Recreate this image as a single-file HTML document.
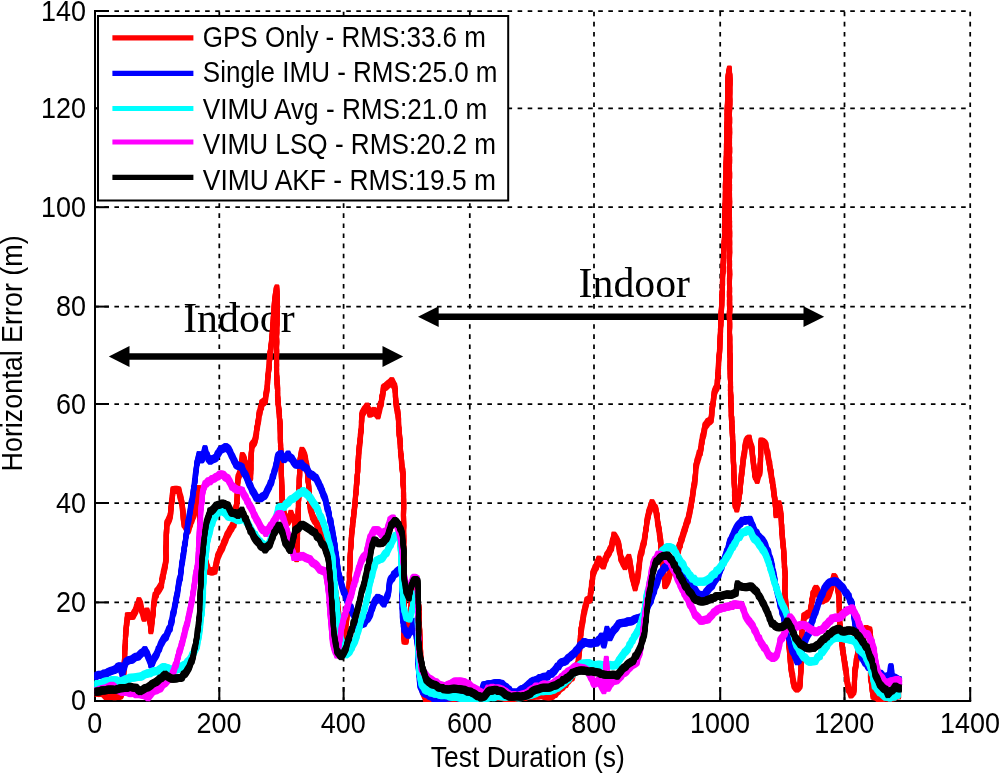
<!DOCTYPE html>
<html><head><meta charset="utf-8"><title>Horizontal Error</title>
<style>
html,body{margin:0;padding:0;background:#fff;}
svg{display:block;}
.t{font-family:"Liberation Sans",Arial,sans-serif;font-size:29px;fill:#000;}
.s{font-family:"Liberation Serif","Times New Roman",serif;font-size:43px;fill:#000;}
.g{stroke:#000;stroke-width:1.75;fill:none;}
.gh{stroke-dasharray:4.6 5.48;stroke-dashoffset:0.76;}
.gv{stroke-dasharray:4.6 5.48;stroke-dashoffset:9.32;}
.a{stroke:#000;stroke-width:2;fill:none;}
.c{fill:none;stroke-width:2.5;stroke-linejoin:round;stroke-linecap:butt;}
</style></head>
<body>
<svg width="1000" height="773" viewBox="0 0 1000 773">
<rect width="1000" height="773" fill="#fff"/>
<defs><clipPath id="cp"><rect x="94.3" y="10" width="877" height="692"/></clipPath></defs>
<g class="g">
<line class="gv" x1="219.3" y1="11" x2="219.3" y2="701.1"/>
<line class="gv" x1="343.6" y1="11" x2="343.6" y2="701.1"/>
<line class="gv" x1="469.8" y1="11" x2="469.8" y2="701.1"/>
<line class="gv" x1="594" y1="11" x2="594" y2="701.1"/>
<line class="gv" x1="720.2" y1="11" x2="720.2" y2="701.1"/>
<line class="gv" x1="844.5" y1="11" x2="844.5" y2="701.1"/>
<line class="gv" x1="970.2" y1="11" x2="970.2" y2="701.1"/>
<line class="gh" x1="95" y1="11" x2="970.2" y2="11"/>
<line class="gh" x1="95" y1="108.3" x2="970.2" y2="108.3"/>
<line class="gh" x1="95" y1="207.2" x2="970.2" y2="207.2"/>
<line class="gh" x1="95" y1="306.6" x2="970.2" y2="306.6"/>
<line class="gh" x1="95" y1="404" x2="970.2" y2="404"/>
<line class="gh" x1="95" y1="503" x2="970.2" y2="503"/>
<line class="gh" x1="95" y1="602.4" x2="970.2" y2="602.4"/>
</g>
<g class="a"><path d="M95,10 V702.1"/><path d="M94,701.1 H971.2"/>
<line x1="219.3" y1="701.1" x2="219.3" y2="687.1"/><line x1="343.6" y1="701.1" x2="343.6" y2="687.1"/><line x1="469.8" y1="701.1" x2="469.8" y2="687.1"/><line x1="594" y1="701.1" x2="594" y2="687.1"/><line x1="720.2" y1="701.1" x2="720.2" y2="687.1"/><line x1="844.5" y1="701.1" x2="844.5" y2="687.1"/><line x1="970.2" y1="701.1" x2="970.2" y2="687.1"/><line x1="95" y1="11" x2="109" y2="11"/><line x1="95" y1="108.3" x2="109" y2="108.3"/><line x1="95" y1="207.2" x2="109" y2="207.2"/><line x1="95" y1="306.6" x2="109" y2="306.6"/><line x1="95" y1="404" x2="109" y2="404"/><line x1="95" y1="503" x2="109" y2="503"/><line x1="95" y1="602.4" x2="109" y2="602.4"/></g>
<line x1="128.5" y1="356.5" x2="383.5" y2="356.5" stroke="#000" stroke-width="6.6"/><polygon points="108.8,356.5 129.5,346.1 129.5,366.9" fill="#000"/><polygon points="403.2,356.5 382.5,346.1 382.5,366.9" fill="#000"/>
<line x1="437.7" y1="316.7" x2="804.5" y2="316.7" stroke="#000" stroke-width="6.6"/><polygon points="418,316.7 438.7,306.3 438.7,327.09999999999997" fill="#000"/><polygon points="824.2,316.7 803.5,306.3 803.5,327.09999999999997" fill="#000"/>
<text class="s" transform="translate(183.2,332.3) scale(0.972,1)">Indoor</text>
<text class="s" transform="translate(578.6,296.6) scale(0.972,1)">Indoor</text>
<defs><polyline id="p_red" points="95.0,692.5 97.6,692.6 99.9,693.2 102.0,692.3 104.0,693.9 106.0,696.1 108.2,695.9 110.1,696.0 112.2,695.7 114.6,696.4 116.7,695.7 118.7,696.1 120.8,695.3 121.4,694.1 121.4,690.9 122.1,689.6 122.3,686.4 122.6,684.9 122.8,682.2 123.0,680.7 123.0,677.8 123.4,675.1 123.8,673.2 123.9,671.4 124.1,668.8 123.7,667.4 124.1,665.0 124.3,662.2 124.6,660.3 124.5,657.2 124.8,655.4 124.6,653.2 124.8,651.7 124.7,649.4 125.2,646.5 125.3,644.5 125.2,642.8 125.6,640.4 125.4,638.5 125.5,635.5 126.0,633.2 125.9,631.4 126.0,629.4 126.3,626.9 126.5,624.4 127.0,622.7 126.9,620.7 127.5,618.0 127.3,616.2 130.5,616.1 132.9,615.8 134.1,613.3 134.9,612.0 135.9,609.9 136.6,607.1 137.8,605.6 138.3,603.6 139.0,601.1 140.0,603.3 140.7,605.0 141.0,608.1 141.8,610.4 142.7,612.4 143.2,614.7 143.5,616.2 144.1,617.8 145.2,615.5 146.0,614.6 147.0,611.4 147.8,614.5 148.6,616.0 149.2,618.2 149.8,620.7 150.0,622.2 150.6,624.5 150.5,627.2 150.8,629.1 150.8,630.4 151.2,628.9 151.5,627.4 151.7,624.5 151.9,621.9 152.2,621.1 152.1,618.6 152.4,616.6 153.0,614.6 153.3,612.1 153.4,609.8 153.4,607.3 153.6,605.1 154.2,602.7 154.3,599.7 154.7,598.7 155.2,595.4 156.3,594.6 156.9,591.6 158.2,590.5 159.5,588.3 161.0,585.7 161.6,584.5 161.6,581.3 162.0,580.3 162.4,577.4 163.1,576.6 163.3,573.1 163.9,571.6 164.3,569.1 164.9,567.1 165.4,564.4 165.5,562.7 166.2,559.3 166.1,557.4 166.0,555.7 166.1,553.6 165.9,551.8 165.8,548.9 166.2,546.0 166.1,544.6 166.2,542.0 166.2,539.7 166.3,538.1 166.2,534.9 166.2,532.9 166.8,530.8 166.7,528.8 166.7,526.7 166.8,523.9 167.8,522.1 169.0,519.6 169.8,517.3 170.3,515.6 170.5,514.1 170.9,510.8 170.8,509.6 171.3,506.4 171.3,505.2 171.5,502.6 172.2,499.8 172.2,498.1 172.3,496.0 172.5,494.3 172.9,492.2 172.9,490.1 176.0,489.6 178.8,490.4 179.2,492.1 179.6,494.0 180.2,496.7 180.8,498.0 181.2,500.2 181.4,501.5 182.1,504.1 182.3,506.7 182.3,508.0 182.9,510.8 183.1,513.2 183.1,515.2 183.1,517.1 183.6,519.7 184.0,522.3 183.9,523.7 185.1,525.3 186.4,527.8 188.1,530.4 188.9,528.3 189.3,526.0 190.4,523.7 190.9,521.3 191.8,519.9 192.4,517.6 193.0,516.4 193.9,514.6 194.5,511.8 194.8,509.3 195.3,507.9 195.5,504.7 195.6,503.4 196.5,499.8 196.5,498.5 197.2,496.5 197.8,493.5 198.2,491.1 198.8,489.0 199.4,491.7 199.3,493.6 199.8,495.5 199.7,498.1 200.2,499.9 199.9,501.8 200.2,504.4 200.0,506.8 199.9,509.1 200.2,511.8 200.1,512.9 199.8,516.0 199.8,517.8 199.9,519.9 200.1,522.4 200.5,524.5 201.0,526.7 200.9,529.6 201.1,531.6 201.8,534.3 201.9,535.8 202.4,537.7 202.4,540.3 202.5,543.0 202.8,544.9 203.1,547.8 203.5,548.8 203.9,551.0 204.0,554.1 204.4,555.3 204.9,557.6 205.1,559.8 205.6,561.6 206.4,563.9 206.7,565.8 207.5,567.8 208.3,570.6 210.2,571.0 212.0,571.6 213.4,570.9 214.9,570.5 215.2,568.7 215.8,566.0 216.1,564.1 216.7,561.7 217.3,559.4 217.5,557.4 218.0,556.1 219.1,553.9 219.8,552.1 220.9,550.0 222.3,547.6 223.0,545.8 223.5,543.9 224.3,542.4 225.6,539.6 226.3,537.5 227.0,535.5 228.1,534.0 229.4,531.5 230.5,529.4 231.6,528.0 232.7,525.5 234.0,524.3 234.3,521.3 234.5,519.7 234.9,518.1 235.2,514.8 235.2,513.4 235.5,511.5 235.7,508.5 236.4,506.5 236.7,504.8 236.8,501.7 237.1,500.4 237.0,497.1 237.3,495.3 237.4,494.1 237.2,491.2 237.8,488.3 237.3,487.1 237.5,484.6 237.7,483.0 238.0,480.2 238.0,477.8 238.8,476.2 239.4,474.2 240.1,472.7 241.3,470.0 241.0,467.2 241.5,465.9 241.6,462.3 242.1,461.0 242.1,458.1 242.3,456.0 243.6,457.9 244.4,460.1 245.1,463.6 245.9,464.1 246.8,466.8 248.3,468.0 248.5,469.4 249.2,471.4 249.4,474.6 250.1,475.7 250.5,477.4 250.8,476.0 250.4,473.8 250.9,471.0 250.8,468.9 251.0,467.5 250.8,465.2 250.9,461.8 250.8,460.2 251.2,458.5 251.0,455.3 251.5,452.6 251.5,451.3 251.8,448.0 251.7,445.9 253.0,444.0 254.2,442.6 255.2,439.9 255.3,438.7 256.1,436.1 256.1,434.1 256.7,431.8 256.6,429.2 257.2,427.5 257.6,425.4 257.8,422.7 258.3,421.1 258.8,418.5 258.8,416.1 259.1,413.7 259.9,412.4 260.2,410.1 260.7,407.9 261.6,406.4 261.7,403.5 263.8,402.0 265.3,400.5 265.7,397.5 265.8,395.1 266.4,392.3 266.8,390.7 267.1,388.5 267.4,385.8 267.3,382.8 267.7,381.7 267.7,378.5 267.9,376.1 268.4,373.8 268.3,371.7 268.5,370.6 269.1,367.8 269.3,366.1 269.2,363.0 269.3,361.8 269.4,359.9 270.1,356.6 269.7,354.3 270.1,353.0 270.7,350.9 270.8,348.2 271.0,345.6 271.4,343.5 271.6,341.6 271.8,338.6 272.1,336.5 272.2,334.7 272.2,332.6 272.7,330.3 272.7,327.7 272.7,326.0 273.0,324.1 273.3,321.0 273.1,319.1 273.7,316.4 273.8,315.0 273.7,312.8 274.1,310.1 274.1,307.8 274.2,305.4 274.5,303.2 274.8,300.0 275.0,298.0 275.2,296.3 275.9,293.9 276.0,290.6 276.9,288.3 276.9,291.7 277.0,293.9 277.2,296.1 277.3,298.7 277.2,300.2 277.3,303.1 277.1,305.1 277.2,307.0 277.3,309.5 277.0,310.8 277.4,313.4 277.2,315.1 277.0,317.8 276.7,319.9 277.2,322.5 277.1,323.8 276.7,326.4 276.5,328.9 276.9,330.8 276.9,332.5 276.5,334.2 276.4,336.4 276.7,339.8 276.8,341.6 276.7,343.9 276.5,346.3 276.5,347.6 276.6,350.1 276.8,352.9 276.4,354.1 276.5,356.7 276.6,359.0 276.5,360.6 276.7,363.4 276.4,364.8 276.7,367.2 276.5,369.3 276.6,372.3 276.6,374.7 276.7,377.1 277.1,379.0 276.9,381.7 277.2,383.7 277.1,386.1 277.6,387.2 277.7,389.8 277.6,392.6 277.4,394.4 277.8,395.8 277.6,398.1 278.1,399.9 277.9,402.1 278.4,404.3 278.4,406.7 278.8,409.1 279.2,411.5 279.3,413.2 279.2,414.9 279.6,418.1 279.5,420.6 280.1,422.2 280.1,424.7 280.2,427.1 280.2,429.4 280.2,431.2 280.4,433.2 280.4,435.3 280.3,437.5 280.3,439.9 280.6,442.4 280.4,443.9 280.8,446.9 280.5,449.0 280.9,451.0 281.0,454.0 280.9,456.1 281.2,457.1 281.0,459.3 281.2,462.7 281.0,463.8 280.9,467.1 281.4,469.0 281.3,470.8 281.3,473.7 281.3,476.1 281.5,478.4 281.7,479.8 281.7,481.9 281.7,485.0 281.9,486.8 282.0,488.3 281.8,491.8 282.1,493.4 282.1,495.5 282.0,498.1 282.0,500.0 282.6,501.8 282.9,505.2 283.0,507.5 283.5,509.6 283.6,511.4 283.9,513.8 285.0,516.4 286.1,518.2 287.1,520.5 287.8,522.0 288.7,520.2 289.7,517.7 290.3,516.6 290.8,513.6 291.8,516.5 293.2,518.2 294.1,519.9 295.0,522.3 294.9,523.8 295.1,526.8 295.0,529.1 295.6,530.7 295.3,533.5 295.6,535.2 295.8,537.5 295.8,539.0 296.0,542.0 295.9,544.4 296.1,545.5 296.2,548.6 296.0,550.4 296.1,553.2 296.1,555.1 296.6,557.2 296.6,558.3 296.6,556.7 296.8,554.1 297.0,552.3 296.7,550.1 297.2,547.7 297.2,546.0 297.2,544.4 297.2,541.7 297.3,539.4 297.6,537.2 297.6,535.9 297.2,533.1 297.8,530.3 297.4,528.6 297.7,527.1 297.7,524.6 297.9,521.5 298.2,520.6 298.2,518.1 298.4,515.5 298.0,513.4 298.1,511.6 298.5,509.1 298.3,506.5 298.6,504.0 298.5,502.3 298.5,499.3 298.9,497.6 298.9,496.1 298.7,493.2 298.9,490.7 298.9,488.6 299.3,486.0 299.1,485.1 299.3,481.9 299.2,480.6 299.2,478.0 299.6,476.2 299.8,472.9 299.5,470.9 299.8,468.9 300.0,466.5 300.1,464.5 299.8,461.7 300.1,460.0 300.7,458.3 300.9,456.0 301.1,453.7 301.8,452.4 301.9,450.6 302.8,451.9 303.8,453.8 304.7,456.0 305.2,458.2 305.5,459.5 305.9,462.4 306.1,463.4 306.9,466.4 306.7,468.3 306.9,469.8 307.6,472.0 307.8,474.4 308.0,476.3 307.7,479.1 308.5,481.9 308.5,483.4 308.6,486.3 308.9,488.3 308.9,490.5 309.1,492.6 309.3,494.7 309.2,496.8 309.8,499.2 309.8,502.1 309.8,503.3 310.0,505.5 310.3,508.1 310.8,509.9 311.5,512.2 312.1,514.1 312.5,516.6 313.1,517.4 314.7,520.6 315.9,521.6 316.9,524.1 318.1,526.7 318.9,528.2 319.8,530.2 320.6,531.8 321.6,534.6 322.0,536.0 322.9,538.4 323.2,540.5 324.0,542.6 324.5,544.5 325.1,547.3 325.9,548.1 326.6,551.2 327.4,552.4 328.2,554.8 328.2,557.3 329.1,559.4 329.2,561.2 329.5,563.8 329.8,565.8 330.6,567.9 331.1,569.1 331.4,571.1 331.5,573.4 331.9,575.2 332.7,577.4 333.2,579.7 333.3,581.5 334.0,584.1 334.2,586.6 334.8,588.7 334.9,591.0 335.9,593.4 335.9,595.3 336.3,598.4 337.2,600.4 337.3,602.2 337.3,604.0 337.9,606.7 338.0,609.2 337.9,610.4 338.3,612.6 338.8,614.6 338.7,616.8 339.1,618.8 339.1,621.9 339.5,623.9 339.7,625.9 339.8,627.8 340.2,629.6 340.5,632.4 340.7,634.9 341.0,636.8 341.1,639.3 341.4,641.2 341.9,643.2 342.2,644.9 342.5,642.7 343.0,641.0 343.5,638.7 344.6,636.7 345.2,634.5 345.2,632.3 345.7,630.2 345.5,628.9 345.7,626.4 346.0,623.4 346.5,622.0 346.6,618.8 347.0,617.1 346.9,614.9 347.5,613.5 347.2,610.6 347.6,608.2 348.0,606.9 347.7,604.7 348.3,602.2 348.2,600.0 348.4,597.5 348.7,596.1 348.8,593.0 349.2,590.3 348.9,589.3 349.2,586.7 349.0,584.8 349.3,582.3 349.6,579.7 349.5,577.6 349.2,575.0 349.5,573.7 349.6,571.4 349.9,568.4 350.0,566.3 349.8,564.1 350.2,561.7 350.0,560.1 350.1,557.7 350.1,555.4 350.5,554.1 350.4,551.9 350.5,549.2 350.8,547.4 351.1,545.3 351.2,543.2 351.2,540.2 351.3,539.1 351.5,536.0 351.7,534.9 351.8,532.6 352.1,530.1 352.3,527.6 352.6,525.6 352.9,523.8 352.7,520.7 353.5,518.9 353.5,517.6 353.9,514.6 353.8,512.5 354.2,510.9 354.5,508.3 354.7,506.0 355.1,503.6 355.1,501.9 355.3,499.7 355.5,497.6 355.5,495.2 355.9,493.0 356.3,491.4 356.2,488.5 356.3,487.2 356.6,483.8 356.9,482.6 357.1,480.6 356.9,477.4 357.5,475.8 357.5,473.5 357.4,472.0 358.0,469.3 357.7,467.1 357.8,464.9 358.1,462.9 358.3,460.1 358.2,458.4 358.8,455.9 358.6,453.6 358.7,452.6 359.0,450.1 359.0,448.0 359.6,445.9 359.8,443.0 359.8,441.6 360.4,439.0 360.3,436.0 360.6,434.8 360.8,431.7 361.2,430.3 361.4,428.4 361.5,426.0 361.3,423.5 361.7,420.7 361.9,417.9 361.6,416.2 362.3,413.6 363.4,411.9 364.3,410.0 365.9,408.2 367.1,406.4 367.9,409.1 369.1,410.8 369.9,413.7 372.0,412.7 373.8,410.8 375.2,412.0 376.7,413.8 378.1,415.4 378.7,412.7 379.0,410.8 379.7,408.7 379.9,406.9 380.5,404.5 381.2,403.7 381.7,400.1 381.6,398.1 382.4,396.1 382.8,394.3 383.1,392.0 383.3,388.7 384.1,387.5 385.9,386.4 387.9,384.5 389.3,383.6 390.7,382.3 391.8,381.1 393.1,383.7 393.8,385.1 394.8,386.9 395.0,389.3 395.5,391.5 395.2,394.2 395.5,395.8 395.6,398.4 395.8,401.0 396.1,403.0 396.1,404.4 396.7,407.5 397.2,409.2 397.1,410.8 397.9,412.4 398.1,415.2 398.1,416.7 398.5,418.9 398.7,421.6 398.4,423.7 398.6,425.4 398.8,427.8 399.2,430.3 398.9,432.9 399.2,434.5 399.6,436.6 399.8,438.0 400.1,441.5 400.3,442.7 400.2,445.6 400.6,448.1 400.4,449.1 400.6,452.4 400.8,454.0 401.2,456.1 401.4,458.6 401.4,460.7 401.8,462.6 401.8,464.8 401.9,467.4 402.3,470.1 402.9,470.9 403.0,473.6 403.2,475.8 402.9,478.3 403.0,479.7 402.9,483.0 403.1,484.6 403.4,486.9 403.6,488.7 403.5,491.2 403.4,493.7 403.7,495.4 403.6,497.7 403.4,499.5 403.8,501.8 403.6,504.9 403.8,505.8 403.6,508.6 403.7,511.4 403.4,513.0 403.4,515.1 403.4,516.6 403.7,519.0 403.6,521.5 403.6,523.1 403.8,525.3 403.8,527.7 403.5,529.9 403.4,531.6 403.8,533.8 403.7,537.3 403.7,538.9 403.9,541.6 403.8,543.1 403.5,545.7 403.7,547.5 404.0,550.3 403.6,551.6 403.8,554.5 403.9,556.5 403.8,558.2 403.9,560.8 404.0,562.2 403.5,564.6 403.6,566.9 403.7,569.7 403.9,572.1 404.0,574.1 404.0,576.0 404.1,578.0 403.8,580.7 403.9,583.0 404.2,584.2 404.0,586.7 403.8,589.6 404.2,591.1 403.9,593.5 404.2,596.2 404.3,597.8 404.1,600.1 404.0,602.1 404.1,604.9 404.3,606.0 403.9,609.4 404.2,610.8 404.0,613.2 404.3,615.7 403.9,617.6 404.2,619.4 404.0,621.6 404.0,624.2 404.2,626.3 403.8,629.0 404.1,631.2 404.1,633.8 403.8,636.0 404.0,637.7 404.0,640.5 406.0,640.8 406.5,638.8 406.4,637.0 407.1,635.2 407.3,632.6 407.3,630.9 407.9,628.5 408.2,626.6 408.5,624.2 408.4,621.4 408.9,619.4 409.1,617.5 409.7,614.9 410.2,613.4 410.3,611.0 410.5,609.3 411.1,606.1 411.1,604.3 411.6,602.4 412.3,600.2 412.1,597.9 412.6,596.4 413.3,593.5 413.5,591.3 413.8,590.5 415.5,590.3 417.0,591.5 417.4,594.3 417.3,596.0 417.9,598.3 417.8,600.3 418.4,603.8 418.3,605.8 419.0,607.3 419.1,610.0 419.2,612.1 419.2,614.7 419.3,617.0 419.4,618.1 419.2,620.2 419.5,622.4 419.3,625.4 419.4,627.4 419.5,628.9 419.9,632.1 419.8,633.0 419.6,635.9 420.0,637.3 420.0,640.0 419.9,642.0 420.3,644.5 420.3,646.5 420.5,648.3 420.4,651.2 420.8,653.1 420.6,655.5 420.5,657.1 421.0,659.1 421.0,662.1 421.0,664.5 421.2,665.8 421.2,668.1 421.4,669.9 421.1,672.9 421.5,674.8 421.5,677.4 421.7,679.5 421.5,681.8 421.6,683.6 421.9,685.1 422.0,688.2 422.2,689.7 423.2,692.3 423.8,694.0 424.9,696.1 425.9,699.5 428.2,699.3 430.7,699.2 433.0,698.5 435.1,698.7 437.8,697.6 440.1,697.5 442.4,697.5 444.6,697.8 446.9,698.6 448.9,698.0 451.1,698.1 453.2,698.6 455.5,697.6 457.5,697.5 460.2,697.3 462.1,697.3 464.6,698.0 466.7,697.8 469.1,698.4 471.3,697.9 473.4,697.8 475.7,698.6 478.0,698.6 479.8,697.5 481.8,697.9 484.1,696.9 485.8,696.4 488.2,696.3 489.9,696.1 491.8,696.1 494.2,696.0 496.3,696.5 498.5,696.4 501.3,696.6 503.5,697.3 505.4,698.0 507.6,698.1 510.2,698.3 512.3,697.3 514.1,698.0 516.3,697.0 518.5,697.4 521.1,696.2 523.0,696.8 525.0,696.8 527.1,695.8 529.3,696.1 531.6,695.5 533.7,695.8 535.9,695.2 538.4,695.6 540.3,694.9 542.9,695.3 545.2,696.1 547.5,696.3 549.8,696.4 552.1,695.8 553.6,694.3 555.1,694.0 556.7,691.8 558.1,690.8 559.3,688.9 561.2,687.6 562.5,686.7 564.1,684.5 565.7,684.1 567.0,681.7 568.7,680.1 570.3,677.9 572.2,677.3 572.7,675.4 573.4,672.8 574.7,670.4 575.5,668.6 576.1,666.6 577.2,665.7 578.2,663.6 578.5,660.7 578.3,658.3 578.9,656.6 579.0,654.5 579.2,651.8 579.5,649.6 580.0,646.8 580.0,645.6 580.0,642.5 580.4,640.7 580.2,638.6 580.8,636.2 580.5,633.7 581.1,632.6 580.7,630.6 581.6,628.3 581.8,625.8 582.1,623.3 582.8,621.2 583.1,618.3 583.2,616.7 583.8,614.3 584.0,612.2 584.7,610.6 585.0,607.8 585.6,606.3 586.1,604.3 586.7,602.1 586.9,600.5 589.7,599.3 590.5,597.7 590.2,596.3 590.5,594.0 591.0,590.7 591.5,588.9 591.4,587.2 591.5,584.2 592.1,582.6 592.4,580.8 592.5,577.7 592.8,576.9 592.7,574.3 593.8,571.8 594.7,569.4 595.1,568.2 596.4,566.5 597.1,563.4 598.2,561.2 598.9,559.5 600.1,561.7 601.9,564.0 603.3,565.6 603.9,563.9 604.4,562.1 605.2,559.5 606.2,558.1 606.8,555.6 607.9,554.2 609.2,552.2 609.7,550.5 610.8,548.6 611.6,547.5 611.8,545.5 612.1,543.3 612.5,541.5 613.3,539.5 613.8,537.5 613.8,535.5 614.8,536.7 615.7,538.3 616.8,540.2 617.8,542.3 618.6,544.7 619.1,546.9 619.2,549.5 619.6,551.2 620.3,553.0 620.5,556.3 620.9,558.3 622.2,560.6 623.0,562.6 623.9,564.2 625.0,566.2 626.2,563.7 626.7,562.0 627.7,559.9 628.9,557.8 629.2,560.5 630.0,561.9 630.1,565.2 630.6,566.8 631.0,569.0 631.2,570.9 631.6,573.2 632.0,575.3 632.6,578.0 633.4,580.5 633.7,582.3 634.7,585.5 635.2,587.4 635.8,584.4 636.0,582.7 636.9,581.0 637.6,577.8 638.0,575.6 638.0,574.2 638.7,571.3 638.6,569.4 638.9,567.3 639.3,564.7 639.6,562.6 639.6,560.4 640.0,557.8 640.3,556.0 641.0,553.3 641.9,551.5 642.3,548.2 642.6,546.9 643.2,544.7 644.2,542.2 644.5,539.3 644.7,538.1 645.1,535.1 645.5,533.8 645.5,530.8 646.2,528.4 646.5,527.1 646.5,525.3 646.7,523.1 647.1,520.6 647.5,518.3 648.2,515.9 648.6,513.2 649.2,511.2 650.0,509.5 650.6,507.0 651.5,504.9 652.0,503.1 652.8,504.5 653.8,507.0 655.2,508.1 656.0,510.5 656.2,511.5 656.4,514.2 657.3,516.0 657.3,518.5 657.5,521.3 657.8,523.2 658.3,525.6 658.5,527.5 659.3,530.2 659.3,532.6 659.8,534.9 660.0,536.7 660.0,538.8 660.7,541.3 660.9,543.4 660.8,546.6 661.2,548.6 661.5,550.8 661.8,552.3 661.9,554.5 662.2,556.8 662.2,558.9 662.2,561.0 662.5,563.5 662.6,566.2 662.9,568.5 663.4,569.6 663.8,572.3 663.5,573.8 664.1,576.2 664.4,578.8 664.6,580.9 664.5,582.2 664.9,585.2 666.1,583.7 666.9,582.3 668.2,579.6 668.6,578.1 669.3,575.7 669.8,573.5 670.5,571.8 671.3,570.6 672.1,567.4 672.5,565.4 673.6,564.3 674.3,562.4 675.0,559.8 675.6,558.3 676.0,556.4 676.9,554.3 677.5,551.9 678.5,550.3 678.8,547.8 679.5,545.5 680.4,544.4 680.5,542.3 681.3,539.8 682.0,538.7 682.4,536.7 683.2,534.1 683.8,532.5 684.4,530.2 685.3,528.2 685.7,526.1 686.6,523.6 687.2,521.3 688.0,520.3 688.5,517.8 688.8,516.1 689.5,513.0 689.9,511.5 690.3,508.3 690.8,506.6 691.2,505.1 691.4,502.0 692.0,499.7 692.3,498.1 692.6,495.4 692.9,493.7 693.2,490.6 693.5,489.1 693.8,486.6 694.1,484.8 694.8,482.7 694.9,479.8 695.1,477.2 695.5,475.2 695.6,473.0 695.7,471.0 695.7,468.1 695.8,466.6 696.6,464.3 697.0,461.5 697.9,459.5 698.1,457.8 698.8,456.4 699.2,453.5 700.2,452.5 700.6,449.8 701.1,447.9 701.3,445.2 701.4,443.4 702.2,441.4 702.3,438.6 702.8,436.8 703.4,434.7 703.9,433.3 704.0,431.2 704.7,428.4 704.9,426.3 706.7,424.1 707.8,422.1 709.5,421.2 711.2,419.5 711.3,417.0 711.8,414.9 711.9,412.8 711.9,410.4 712.2,407.6 712.7,405.1 713.1,403.4 713.4,400.6 713.5,398.7 713.9,396.9 714.0,394.0 714.8,391.4 715.7,389.1 716.8,387.6 717.4,385.1 717.1,382.7 717.5,380.9 717.8,378.1 717.6,376.2 717.9,374.2 718.2,371.4 718.3,369.7 718.4,367.4 718.4,364.7 718.7,363.0 718.6,360.6 718.8,358.8 719.0,356.2 719.4,354.0 719.4,352.5 719.8,349.8 719.8,347.1 719.8,344.8 719.9,343.6 720.1,340.1 720.0,338.8 720.3,335.7 720.6,334.0 720.3,332.0 720.6,330.0 720.6,327.9 720.6,325.3 721.1,322.8 720.7,320.8 721.2,318.5 720.9,316.6 721.0,314.1 721.2,311.8 721.4,309.4 721.6,307.2 721.8,304.6 721.9,302.6 721.6,301.2 722.0,297.8 722.1,296.0 721.8,294.2 722.3,292.1 722.5,289.1 722.5,286.7 722.3,284.8 722.7,282.6 722.4,280.1 722.5,278.0 722.7,275.9 722.7,274.0 722.8,271.6 723.3,270.6 723.3,267.0 723.0,266.2 723.3,263.7 723.1,261.7 723.6,259.5 723.6,257.1 723.9,255.4 723.7,252.4 723.5,250.9 724.1,248.2 724.1,246.0 724.0,243.9 724.2,242.2 724.3,240.0 724.5,237.8 724.5,235.6 724.6,233.1 724.7,230.6 724.3,229.1 724.8,227.2 724.7,224.8 724.7,221.6 724.9,220.2 725.1,217.0 724.7,215.5 724.8,212.6 725.1,210.8 725.3,208.7 724.9,206.8 725.3,204.7 725.1,201.5 725.5,200.4 725.5,198.1 725.2,195.2 725.4,193.4 725.5,191.8 725.4,188.3 725.3,186.2 725.4,184.2 725.7,182.6 725.6,179.6 726.0,177.6 725.9,176.0 726.0,173.4 726.0,171.3 726.2,169.7 726.0,167.0 725.9,165.4 726.3,163.1 726.1,159.9 726.4,157.8 726.6,156.0 726.2,154.0 726.5,151.8 726.6,149.3 726.3,146.7 726.7,144.8 726.9,142.9 726.5,140.7 726.9,137.7 726.7,135.8 727.0,133.6 727.0,131.0 726.8,129.7 727.2,127.8 726.8,125.2 727.2,122.5 727.2,120.2 727.3,118.6 727.0,116.7 727.4,114.7 727.0,111.8 727.4,109.8 727.2,108.2 727.4,105.8 727.4,103.9 727.7,101.5 727.8,98.4 727.6,97.4 727.9,93.9 727.6,92.7 727.7,90.5 727.8,87.5 728.0,85.4 727.6,83.8 728.2,81.7 727.9,80.0 727.9,77.3 728.4,75.4 728.6,72.9 729.4,69.5 729.4,73.2 729.7,75.2 730.1,77.1 729.8,79.4 730.2,82.1 730.1,83.1 729.8,85.3 729.7,88.2 729.9,90.9 729.9,91.8 729.7,94.3 729.7,96.3 729.7,99.4 730.0,101.6 729.9,102.8 729.5,105.9 729.8,107.0 729.6,109.3 729.5,111.6 729.4,113.6 729.5,116.6 729.3,118.2 729.8,120.1 729.5,122.8 729.4,125.2 729.5,126.9 729.6,128.9 729.7,131.2 729.5,133.3 729.7,135.4 729.3,137.7 729.2,139.8 729.6,142.1 729.5,144.7 729.3,146.9 729.8,149.8 729.6,152.1 729.5,153.5 729.5,156.2 729.3,157.5 729.8,160.0 729.4,162.0 729.4,165.4 729.6,166.3 729.4,169.8 729.3,171.4 729.7,174.2 729.7,175.9 729.3,178.6 729.6,180.0 729.2,182.2 729.3,184.9 729.7,187.4 729.3,189.1 729.5,191.1 729.3,192.8 729.6,195.9 729.5,198.1 729.6,199.8 729.6,201.9 729.7,203.9 729.3,207.1 729.3,208.9 729.3,211.6 729.3,213.4 729.3,215.1 729.3,217.3 729.6,219.9 729.4,221.6 729.7,224.2 729.3,225.7 729.7,229.0 729.3,230.1 729.6,232.4 729.8,234.8 729.5,237.0 729.5,240.0 729.7,241.9 729.7,244.1 729.5,246.2 729.3,248.2 729.8,250.1 729.6,252.3 729.6,255.4 729.5,256.3 729.3,259.5 729.3,260.8 729.7,263.9 729.4,265.5 729.5,267.3 729.3,270.3 729.8,271.9 729.6,274.5 729.7,275.9 729.5,278.5 729.4,281.0 729.5,283.0 729.5,285.2 729.5,287.5 729.7,290.3 729.5,292.3 729.3,294.1 729.5,296.3 729.8,298.3 729.5,301.1 729.3,303.2 729.9,305.6 729.6,306.6 729.8,309.1 729.8,311.8 729.3,313.3 729.3,315.5 729.3,317.5 729.7,319.7 729.5,322.5 729.7,324.4 729.8,326.1 729.5,328.6 729.6,331.2 729.5,332.8 729.5,335.9 729.9,337.6 729.8,339.4 729.6,342.5 729.8,344.8 729.9,346.3 729.9,348.1 729.7,351.2 729.9,353.5 729.8,354.4 730.3,356.5 730.0,359.5 730.4,361.3 730.0,363.4 730.1,366.5 730.1,368.4 730.1,370.8 730.5,372.7 730.3,374.0 730.1,376.3 730.5,378.9 730.5,381.2 730.5,382.7 730.6,385.8 730.3,387.5 730.7,389.3 730.5,391.2 730.4,393.4 730.9,395.6 731.0,398.2 730.8,400.6 730.7,402.5 731.1,404.1 731.2,406.6 731.1,409.1 731.5,410.9 731.2,413.5 731.3,415.7 731.4,418.3 732.0,419.3 731.7,422.3 732.0,424.3 731.8,426.1 732.2,428.0 732.2,430.6 732.2,432.1 732.4,435.3 732.7,436.3 732.7,438.5 732.5,441.2 733.0,443.9 733.1,445.5 732.9,447.9 732.8,449.5 733.2,452.6 733.1,454.8 733.4,456.6 733.2,459.2 733.3,461.6 733.6,463.6 733.7,465.7 733.9,467.2 733.7,470.1 733.7,472.4 734.0,473.7 733.9,476.4 734.2,478.3 734.1,480.7 734.2,482.3 734.2,484.8 734.4,486.3 734.7,489.5 734.6,491.2 734.4,492.7 734.5,495.4 734.7,497.7 734.8,500.2 734.8,501.3 735.1,504.7 736.0,505.9 736.8,508.6 737.3,505.6 738.0,503.6 738.2,501.6 738.4,499.2 739.1,497.4 739.2,495.0 739.7,492.1 740.3,490.4 740.1,488.3 740.5,485.1 740.5,483.9 740.8,482.1 741.1,479.7 741.1,476.9 741.4,474.8 742.0,473.1 742.1,471.2 742.0,468.2 742.6,466.9 742.8,464.6 743.0,462.3 743.1,459.5 743.5,457.8 744.0,455.6 744.1,453.7 744.8,450.9 744.8,448.3 745.1,446.0 745.7,444.5 746.1,441.8 747.3,439.8 749.2,438.4 749.6,440.6 750.2,443.5 750.9,445.8 751.5,447.2 752.2,449.4 752.1,451.5 752.3,453.9 752.6,456.3 753.0,458.7 753.1,460.8 753.4,462.8 753.5,465.2 754.0,466.8 754.4,470.1 754.8,471.6 754.5,473.5 755.3,476.3 756.3,477.3 757.2,480.0 757.8,477.5 758.3,475.1 759.1,473.7 759.8,472.5 760.0,469.4 760.0,467.9 760.0,465.9 760.5,463.7 760.2,461.2 760.7,459.1 760.5,457.4 760.7,455.0 760.7,453.0 760.7,450.1 760.6,448.7 761.0,446.7 760.8,444.2 761.0,441.4 762.8,442.0 764.7,443.4 766.0,445.6 766.2,448.1 766.7,450.1 767.1,452.2 767.9,453.7 767.9,456.2 768.4,458.5 768.8,460.5 769.1,462.8 769.8,464.3 769.7,466.3 770.1,468.7 770.4,470.6 771.3,472.7 771.1,474.9 771.6,477.6 771.9,480.3 772.6,481.7 772.7,483.9 773.0,486.7 773.5,489.2 773.9,490.9 773.8,493.7 774.3,495.8 774.6,498.2 775.2,500.7 775.0,502.8 775.4,505.1 775.6,506.4 775.8,508.7 775.9,512.1 775.9,514.2 776.3,512.4 777.4,509.8 777.7,508.1 778.4,505.8 779.0,504.2 779.2,505.4 780.0,508.2 780.0,510.3 780.4,511.4 780.9,514.2 781.0,515.9 781.2,518.3 781.4,520.3 781.3,522.5 781.4,525.0 782.0,527.7 781.6,529.3 781.7,531.5 782.2,533.5 782.2,536.4 782.5,539.1 782.8,540.9 783.0,542.6 782.9,545.0 783.5,547.5 783.6,549.9 783.8,551.2 783.9,553.9 784.0,555.7 783.9,557.6 784.3,560.4 784.6,562.8 784.2,564.4 784.4,566.2 784.8,568.8 784.9,571.2 784.8,572.3 785.3,574.5 785.2,577.5 785.1,579.1 784.9,582.1 785.1,584.5 785.1,586.0 784.8,588.7 784.8,590.2 785.0,592.7 785.0,594.3 785.1,597.8 785.2,599.0 785.8,602.1 785.8,603.7 786.1,605.7 786.2,609.0 786.7,611.2 786.6,613.1 786.8,614.4 786.9,617.1 787.5,618.6 787.5,621.8 787.4,623.8 787.7,625.4 787.7,628.5 787.9,630.6 788.1,632.5 788.2,633.6 788.5,636.2 788.7,638.4 788.7,640.7 788.6,643.1 788.9,645.3 789.2,647.8 789.3,649.5 789.7,651.0 789.6,653.1 790.1,655.9 790.1,658.1 790.2,661.0 790.8,662.5 791.0,665.4 790.8,666.9 791.2,669.7 791.9,671.9 791.8,673.9 792.8,676.5 792.7,677.9 793.0,681.1 793.6,682.3 794.0,685.1 795.6,687.3 797.0,688.7 798.7,687.1 800.0,685.4 800.2,683.4 800.2,681.1 800.3,678.3 800.6,676.4 800.6,673.7 800.8,672.4 801.1,669.2 801.0,668.1 801.0,666.2 801.2,662.7 801.5,661.7 801.8,658.6 801.6,656.9 801.9,654.9 801.9,653.1 801.9,649.7 801.7,647.6 801.8,645.5 801.6,644.6 801.8,641.9 801.7,640.2 801.8,636.9 801.8,635.5 802.0,633.4 801.9,631.5 802.1,629.1 802.7,626.2 803.3,624.5 803.3,622.0 803.9,619.4 803.8,616.5 805.7,615.6 807.9,614.0 810.2,613.2 810.5,610.7 810.6,608.9 811.2,606.5 811.6,603.8 811.6,601.3 812.3,599.5 812.9,597.4 812.8,594.4 814.0,592.9 814.7,590.6 816.0,588.7 816.7,589.7 818.2,592.2 818.8,594.4 820.2,596.0 821.0,598.4 822.0,600.5 824.2,599.1 826.3,598.4 827.8,596.4 828.6,595.1 829.2,593.6 829.9,591.6 830.6,589.0 831.4,587.1 831.9,585.3 832.4,582.6 832.7,580.8 833.3,579.3 833.9,577.0 835.1,578.3 835.9,580.4 837.2,582.9 837.5,585.6 837.5,587.3 837.8,589.6 838.4,592.0 838.5,594.2 839.0,596.1 839.1,598.5 839.2,601.6 838.9,603.6 839.5,605.6 839.4,608.1 839.1,609.6 839.6,612.7 839.8,613.9 839.4,615.7 839.7,618.2 839.6,621.3 839.7,623.5 840.0,624.8 840.4,627.4 840.6,629.9 840.6,631.3 841.0,633.6 841.2,635.7 841.3,637.7 841.7,640.5 841.7,642.5 842.2,644.7 842.2,647.5 842.6,648.8 842.8,652.1 843.3,653.4 843.6,655.9 843.9,657.7 844.2,659.9 844.5,662.5 845.2,664.6 845.1,667.4 845.8,669.1 846.1,671.3 846.2,673.2 846.6,675.8 846.7,678.0 846.8,679.7 847.4,683.2 847.9,685.4 848.3,686.7 848.5,689.4 849.6,690.4 850.3,692.7 851.0,694.5 852.3,692.9 853.8,691.3 854.2,688.3 854.3,686.0 854.4,684.1 854.6,682.4 854.4,680.0 854.7,677.2 854.8,675.5 854.9,673.7 854.7,670.5 855.3,668.8 855.7,666.7 856.2,664.4 856.1,661.6 856.6,660.0 857.1,657.5 857.5,656.0 857.9,653.6 858.0,651.3 858.6,648.6 859.8,645.9 860.6,644.3 861.0,642.6 861.9,640.7 862.7,638.3 863.5,635.2 864.7,632.7 865.3,630.7 865.9,628.9 868.0,629.8 869.8,630.4 870.0,632.6 870.5,634.8 870.2,635.9 870.8,638.7 870.8,640.9 871.0,642.9 871.2,645.2 870.8,646.9 871.0,649.5 870.7,651.2 871.0,653.3 870.7,655.7 870.8,658.5 871.0,659.7 870.5,662.1 870.6,664.0 870.6,666.0 870.5,669.1 870.8,670.2 870.5,672.4 870.4,675.4 870.5,677.5 870.8,679.4 871.6,682.3 871.7,684.4 871.9,686.3 872.0,688.9 872.4,690.0 872.7,692.6 873.0,695.6 874.6,696.3 876.4,696.7 878.1,698.1 880.0,698.2 881.9,698.5 884.1,697.3 886.0,697.3 888.0,697.6 889.8,696.8 892.0,697.6 894.2,697.0 896.3,695.4 897.8,695.0 899.8,695.6"/></defs>
<g class="c" stroke="#ff0000" clip-path="url(#cp)"><use href="#p_red" x="-1.25" y="-2.7"/><use href="#p_red" x="-1.25" y="-1.35"/><use href="#p_red" x="-1.25" y="0"/><use href="#p_red" x="-1.25" y="1.35"/><use href="#p_red" x="-1.25" y="2.7"/><use href="#p_red" x="0" y="-2.7"/><use href="#p_red" x="0" y="-1.35"/><use href="#p_red" x="0" y="0"/><use href="#p_red" x="0" y="1.35"/><use href="#p_red" x="0" y="2.7"/><use href="#p_red" x="1.25" y="-2.7"/><use href="#p_red" x="1.25" y="-1.35"/><use href="#p_red" x="1.25" y="0"/><use href="#p_red" x="1.25" y="1.35"/><use href="#p_red" x="1.25" y="2.7"/></g>
<defs><polyline id="p_blue" points="95.0,676.5 97.5,675.4 99.5,674.7 102.0,675.1 104.1,673.5 106.2,673.6 108.1,672.1 110.0,671.4 111.8,670.7 113.9,670.1 116.3,668.9 117.8,666.9 119.9,666.2 120.5,667.3 120.9,670.1 121.7,671.3 122.1,674.2 122.9,672.2 123.1,669.6 124.0,667.9 124.6,666.5 125.1,664.1 125.9,662.1 128.2,660.4 130.0,660.0 132.1,659.5 134.2,657.8 136.1,656.7 138.3,656.5 140.2,654.3 141.5,653.0 143.3,652.2 144.9,649.9 145.8,651.8 147.1,653.8 148.1,656.5 148.9,658.3 149.7,660.3 150.5,662.3 150.8,664.6 152.5,662.5 153.6,659.3 154.6,657.7 155.9,655.6 156.8,654.0 157.8,651.3 158.3,649.6 159.4,648.5 160.1,645.9 161.2,643.4 162.3,641.6 163.4,639.4 164.5,638.0 166.3,636.5 167.1,633.8 167.8,632.4 168.9,629.5 170.2,628.0 170.5,626.1 170.9,623.3 171.7,621.7 172.2,619.6 172.4,616.5 172.9,614.0 173.8,612.1 174.2,609.8 174.5,607.8 174.9,605.4 175.6,602.7 175.7,600.6 176.2,598.9 176.7,596.1 176.9,595.0 177.6,592.6 177.8,589.8 178.2,587.8 178.5,584.8 178.9,583.3 179.2,580.8 179.7,579.2 180.5,577.1 180.6,574.2 180.8,572.7 181.4,569.2 181.4,567.8 181.6,565.2 182.0,562.8 182.4,561.7 182.7,559.2 182.9,556.2 183.4,554.9 183.8,552.2 183.8,549.9 184.6,547.8 184.4,545.3 185.2,543.1 185.5,541.5 185.6,539.0 185.8,536.4 186.4,534.8 186.6,532.2 187.3,529.8 187.2,528.9 187.5,525.9 187.8,523.4 188.2,521.5 188.7,520.3 189.1,517.1 189.4,514.6 189.8,513.0 190.3,510.5 190.4,508.9 191.0,506.1 191.1,503.8 191.5,502.3 192.1,500.7 192.4,497.9 192.9,495.0 193.0,493.1 193.6,490.5 193.4,489.4 194.2,487.0 194.4,483.9 194.5,481.9 195.2,480.3 195.2,477.5 195.4,475.0 195.8,473.1 196.0,470.2 196.4,468.9 196.6,465.8 196.8,463.5 197.4,462.4 197.8,460.1 198.7,456.9 199.0,455.0 200.0,456.1 201.2,458.8 201.7,459.4 202.4,458.3 203.1,455.5 203.9,453.4 204.6,450.2 205.0,449.1 205.5,450.9 205.8,452.9 206.3,454.6 207.2,455.4 207.9,457.8 209.2,459.6 210.2,460.8 212.3,459.3 214.3,458.6 216.2,457.5 217.0,455.0 217.7,453.9 218.9,452.4 220.3,450.0 222.1,448.9 223.8,448.4 225.7,447.0 227.4,448.2 228.9,449.7 230.2,452.2 231.0,454.2 231.8,455.8 232.9,457.8 233.7,459.9 234.9,461.9 235.9,464.4 238.2,465.9 240.0,466.2 242.1,467.6 242.8,470.3 243.9,472.6 245.0,474.0 246.1,475.9 246.7,477.4 247.9,480.6 248.6,482.3 249.2,483.9 250.2,485.6 251.0,487.3 251.9,490.0 252.8,491.4 253.8,492.9 255.2,495.4 256.2,497.5 258.1,498.1 260.2,498.4 261.5,497.5 263.0,496.3 264.6,495.6 265.8,493.9 266.8,491.4 267.5,490.0 268.3,488.5 269.5,486.3 270.3,483.6 271.3,482.4 271.9,480.6 272.3,477.5 273.4,475.7 273.8,473.6 274.1,472.1 274.8,470.3 275.6,467.6 275.8,465.6 276.4,464.0 276.9,461.7 277.0,460.2 277.4,457.6 278.1,455.9 279.7,454.6 281.1,454.1 281.9,456.0 283.1,457.8 283.9,459.3 285.4,457.8 286.9,456.7 288.1,454.4 289.3,456.9 290.9,458.0 292.1,459.0 293.1,461.0 294.9,463.5 295.8,464.5 298.3,464.8 301.2,463.6 302.5,465.6 304.5,467.3 305.9,468.0 307.3,469.4 308.7,472.6 309.8,474.0 311.9,474.8 314.2,476.9 316.0,478.0 316.9,479.7 318.2,482.6 319.0,483.9 319.8,486.1 320.8,487.7 321.7,490.4 322.5,491.7 322.9,493.7 324.1,496.2 324.8,497.7 325.4,499.5 325.9,501.5 326.3,504.1 326.6,505.5 327.2,508.3 328.3,509.9 328.2,511.8 329.0,513.7 329.5,515.9 329.5,518.1 330.0,520.5 330.8,521.4 331.2,524.0 331.4,526.1 331.7,527.9 332.5,530.6 332.8,533.5 333.3,535.9 333.5,537.6 334.2,540.5 334.5,542.7 334.5,544.1 335.2,546.2 335.3,549.5 335.6,551.2 335.8,553.8 336.4,555.0 336.5,557.2 336.8,559.8 337.5,562.7 337.4,564.5 337.5,566.0 338.0,568.8 338.0,570.9 338.4,573.5 339.4,576.1 339.6,577.7 340.6,580.2 341.1,582.7 341.6,584.7 342.3,587.4 342.7,588.4 343.5,591.4 344.9,593.1 345.2,595.2 346.2,598.2 347.1,600.6 347.7,602.6 349.2,603.8 350.0,607.1 351.2,608.2 351.8,610.8 352.7,613.1 354.0,614.8 354.5,617.3 355.2,619.8 356.5,622.0 357.4,624.5 358.0,626.6 359.9,624.7 362.2,623.9 364.3,623.1 365.0,621.5 366.5,619.2 367.7,618.6 368.9,616.8 370.2,614.4 370.9,612.5 371.1,610.7 371.7,609.2 372.5,607.7 373.4,604.8 373.8,603.6 375.4,600.5 376.5,599.7 377.7,597.7 379.6,599.0 381.1,599.4 382.4,601.7 384.0,603.6 384.7,601.0 386.1,599.6 387.1,596.3 387.7,595.5 388.4,592.8 388.9,589.7 388.9,588.5 389.1,585.7 389.4,583.2 390.2,580.4 391.1,579.0 392.6,577.7 393.9,574.5 395.3,573.8 396.8,572.0 398.7,570.4 400.1,569.4 400.7,570.3 401.2,573.5 401.9,575.3 401.7,576.7 401.9,579.4 402.2,581.2 402.3,584.5 402.0,585.5 402.4,588.2 402.2,590.4 401.9,592.2 402.0,594.6 402.1,597.2 402.4,599.0 402.1,601.6 402.5,604.2 402.0,605.9 402.2,607.9 402.4,611.0 402.5,612.3 402.3,615.3 402.5,617.2 402.7,620.2 403.5,621.4 403.2,624.0 404.0,627.3 403.9,629.2 405.3,630.4 406.4,633.1 408.3,634.8 409.4,632.3 410.5,631.4 412.1,628.6 412.5,627.3 413.1,625.0 413.8,623.0 414.2,621.7 414.3,623.7 414.6,625.1 415.2,627.3 415.4,629.3 415.5,632.2 416.2,634.2 416.1,636.0 416.5,637.4 416.9,639.6 417.0,641.7 417.4,644.0 417.5,646.5 417.6,648.5 417.5,650.8 417.8,653.2 417.7,655.0 417.9,657.5 417.9,659.4 418.1,661.8 418.2,664.0 418.1,665.7 418.5,668.6 418.5,670.5 418.9,671.7 419.0,674.0 419.4,675.9 419.3,678.8 419.4,680.3 419.8,682.8 419.8,684.7 421.1,687.4 421.8,689.2 422.8,691.5 424.1,692.7 425.8,693.7 428.1,694.5 429.9,696.0 432.0,696.5 434.3,698.7 435.8,698.6 438.1,698.3 440.4,698.1 442.8,698.7 445.3,697.6 447.6,697.3 449.9,697.2 452.2,696.9 454.4,696.5 456.8,697.2 458.7,697.2 461.4,697.6 463.3,696.9 465.4,697.7 467.8,696.9 469.8,696.9 471.7,695.8 473.8,695.3 476.2,694.7 477.9,694.2 479.9,693.8 481.0,691.3 482.0,690.1 483.1,686.6 483.8,685.1 486.1,685.0 488.3,684.1 490.6,684.3 492.8,683.8 495.3,683.3 497.4,682.9 499.7,683.5 502.1,684.0 503.9,686.1 506.2,687.3 507.7,689.1 509.2,689.8 510.4,692.1 512.2,692.8 514.2,692.5 515.8,692.8 518.2,692.3 520.2,690.2 522.1,689.1 523.8,688.6 525.4,687.5 527.2,686.0 528.8,684.3 530.5,682.8 531.8,681.7 534.0,680.6 535.8,680.4 538.2,679.2 539.8,677.9 542.0,677.6 544.1,676.8 545.9,676.6 547.8,676.5 549.4,673.9 551.4,673.9 553.0,672.1 554.3,671.0 556.2,668.4 557.3,666.7 558.7,666.2 559.8,663.9 562.0,662.1 564.2,661.7 566.1,660.7 568.0,658.3 569.7,657.3 571.0,656.0 572.6,654.6 574.6,653.0 576.3,650.5 577.4,649.8 578.7,648.0 579.8,645.9 581.3,644.8 582.9,643.7 583.9,642.0 586.1,642.6 588.1,643.0 590.2,643.6 592.4,643.3 594.8,642.5 597.0,642.6 598.4,640.2 599.8,639.4 601.6,636.4 602.3,638.6 602.8,641.1 603.2,643.1 603.9,644.6 604.5,642.5 604.9,640.9 605.0,637.9 605.5,636.7 606.2,633.4 606.5,632.0 606.9,629.8 607.5,631.5 608.6,632.7 609.0,635.8 610.0,637.2 611.3,634.6 611.9,633.1 613.1,631.1 614.0,630.0 615.5,628.5 617.0,626.5 618.6,623.9 620.7,623.2 623.5,622.8 625.8,622.6 628.1,621.3 630.4,621.6 632.4,620.8 635.1,619.1 637.3,618.4 639.6,617.9 641.6,617.0 643.2,616.1 644.2,614.5 645.2,612.1 645.8,609.7 647.0,608.3 647.9,606.2 648.9,603.7 650.3,601.4 651.2,600.1 651.5,598.1 652.2,596.1 652.9,593.9 653.6,591.9 654.5,590.5 654.9,587.4 655.5,585.9 656.4,584.7 657.3,581.9 657.9,580.5 658.3,578.0 659.4,575.8 660.0,573.6 661.3,572.5 662.9,570.1 664.2,568.1 665.8,567.2 667.4,565.1 668.9,563.4 671.1,562.6 673.1,560.8 675.1,559.3 676.4,561.2 677.3,563.5 678.5,565.3 679.4,566.5 680.9,568.2 682.0,569.6 683.2,571.9 684.1,574.0 685.2,576.5 686.4,577.6 687.9,579.7 688.7,581.5 689.9,583.7 691.6,585.3 692.4,587.9 694.0,589.0 695.3,590.1 696.5,592.2 697.9,594.4 700.5,594.9 702.8,595.8 704.4,595.0 705.9,592.3 707.3,590.9 708.5,589.3 710.0,587.4 711.2,586.3 712.5,585.1 713.2,583.2 714.8,580.6 715.5,579.5 716.9,577.6 717.8,575.4 718.8,574.6 719.5,571.6 720.2,570.5 720.8,568.5 721.9,566.6 722.3,563.6 723.0,561.4 724.2,560.1 724.9,557.4 725.4,556.2 726.2,553.5 726.5,551.9 727.6,550.4 728.2,548.4 728.7,545.9 729.1,544.3 729.9,541.5 731.0,540.0 731.7,538.0 732.6,536.2 733.4,534.6 734.3,532.2 735.4,530.0 736.1,528.6 737.3,526.5 739.0,524.4 740.5,523.3 742.3,520.6 744.3,521.1 745.9,520.0 747.9,520.3 749.9,519.7 750.8,521.6 751.5,523.6 752.4,525.6 753.4,527.5 754.0,529.8 755.3,532.2 756.9,533.3 758.0,536.0 759.3,537.2 761.0,539.0 762.6,540.3 763.8,542.5 764.6,543.5 765.8,546.1 766.2,548.6 766.9,550.1 768.2,551.7 768.8,553.4 769.0,556.7 769.9,557.9 770.5,559.4 771.1,561.5 771.7,564.0 772.1,565.7 772.6,567.5 772.6,570.8 773.3,572.0 773.9,574.6 774.2,576.7 774.6,578.7 775.0,580.6 775.3,582.2 775.5,585.6 776.2,587.4 776.7,588.8 777.1,590.8 777.5,593.4 778.3,595.7 778.8,598.4 779.4,600.3 779.8,603.2 780.2,605.3 781.0,606.4 781.6,609.7 781.8,611.7 782.6,613.1 783.4,615.2 783.7,617.9 784.3,620.5 785.1,622.7 785.5,625.0 785.7,626.2 786.6,629.2 787.1,630.5 787.4,633.6 788.0,635.1 788.9,637.5 789.7,640.4 790.1,642.9 790.6,644.3 791.2,647.2 791.8,649.6 792.9,651.7 793.8,652.6 794.6,655.6 795.2,656.3 796.3,659.3 797.2,661.4 799.2,660.0 799.5,658.9 800.5,656.6 800.9,654.0 801.5,651.7 802.2,649.6 802.6,646.9 803.3,645.7 803.8,643.4 805.1,640.3 805.9,639.2 807.0,636.4 807.8,634.9 808.8,633.4 809.8,631.7 809.9,629.4 810.7,626.6 810.7,625.1 811.6,623.6 811.9,621.3 813.1,619.1 813.4,616.7 814.2,615.2 815.1,612.6 815.9,611.3 816.4,609.2 817.1,607.2 817.8,605.2 818.4,602.5 819.1,601.3 819.9,598.8 820.8,597.1 821.4,595.2 822.6,593.7 823.4,591.6 823.9,589.4 825.8,586.6 827.2,584.9 828.3,583.6 829.8,582.4 831.9,581.9 833.9,581.3 836.2,581.6 837.6,582.8 838.7,583.7 840.4,585.8 841.8,586.9 843.2,588.4 844.4,590.4 845.3,592.2 846.6,593.2 848.1,595.7 849.1,596.6 849.5,599.3 850.4,601.2 851.5,602.5 852.2,604.5 852.4,606.8 852.7,609.3 853.2,611.2 853.7,613.4 853.8,615.8 854.3,618.7 854.6,621.2 854.8,623.5 855.7,625.2 856.0,628.0 856.3,629.9 856.7,631.6 857.0,635.0 857.7,636.5 858.0,639.3 858.6,641.4 858.8,643.4 859.3,645.8 859.6,648.0 859.6,649.8 860.4,651.5 860.4,654.1 860.8,655.5 862.4,657.8 863.7,660.0 865.0,662.6 866.4,663.1 867.4,665.3 868.6,667.1 870.2,667.4 871.5,668.9 873.6,669.6 875.2,670.5 876.9,672.5 878.6,673.5 880.5,673.7 881.8,675.0 883.3,677.3 885.9,677.0 887.3,676.4 889.4,675.8 890.0,673.5 890.2,671.8 890.3,668.7 890.6,667.6 891.0,667.1 891.5,669.3 891.6,670.7 891.8,673.1 891.7,674.5 892.1,677.0 894.3,677.7 896.0,678.5 898.1,679.9 900.4,680.3"/></defs>
<g class="c" stroke="#0000ff" clip-path="url(#cp)"><use href="#p_blue" x="-1.25" y="-2.7"/><use href="#p_blue" x="-1.25" y="-1.35"/><use href="#p_blue" x="-1.25" y="0"/><use href="#p_blue" x="-1.25" y="1.35"/><use href="#p_blue" x="-1.25" y="2.7"/><use href="#p_blue" x="0" y="-2.7"/><use href="#p_blue" x="0" y="-1.35"/><use href="#p_blue" x="0" y="0"/><use href="#p_blue" x="0" y="1.35"/><use href="#p_blue" x="0" y="2.7"/><use href="#p_blue" x="1.25" y="-2.7"/><use href="#p_blue" x="1.25" y="-1.35"/><use href="#p_blue" x="1.25" y="0"/><use href="#p_blue" x="1.25" y="1.35"/><use href="#p_blue" x="1.25" y="2.7"/></g>
<defs><polyline id="p_cyan" points="95.0,685.0 97.1,683.9 99.4,684.3 101.8,683.5 104.0,681.9 106.1,681.5 107.9,681.3 109.9,680.9 112.1,680.1 114.2,680.5 116.0,680.3 118.0,681.4 120.3,681.5 122.1,681.2 124.3,680.2 125.8,679.1 128.2,679.3 129.9,677.7 131.8,677.7 134.0,677.5 136.1,677.2 137.8,676.8 140.2,676.8 142.1,676.1 144.1,674.6 145.9,674.2 148.0,673.1 150.0,673.2 152.0,671.8 154.2,671.1 156.3,671.2 158.2,670.5 160.1,669.1 162.2,667.6 164.0,667.0 166.2,667.8 168.2,668.5 170.2,670.1 172.0,669.5 173.8,669.4 176.2,669.5 178.1,669.0 180.2,667.4 182.0,666.2 184.2,665.1 186.0,664.2 187.2,662.2 188.5,661.1 189.7,659.7 191.0,657.8 191.8,655.4 192.8,654.3 193.9,652.6 194.9,650.2 196.0,648.3 197.3,645.8 197.6,644.4 197.9,641.7 198.3,638.6 198.9,637.3 199.4,634.3 199.8,631.6 199.9,629.3 200.4,627.6 200.7,624.9 200.6,623.4 200.8,621.3 201.0,619.4 201.4,616.2 201.6,614.7 202.3,612.6 202.2,610.2 202.4,607.6 202.8,604.6 202.6,602.8 202.7,600.5 203.1,597.6 203.1,596.2 203.5,593.1 203.6,591.8 203.5,588.8 203.4,586.9 203.6,585.4 203.7,582.9 204.0,580.9 204.1,578.6 203.7,576.2 204.4,573.4 204.6,571.5 204.5,569.6 204.6,567.8 205.3,565.4 205.2,563.0 205.5,559.8 205.6,557.9 206.0,555.4 206.4,553.9 206.5,551.0 206.8,549.8 206.9,547.4 207.3,544.0 207.5,542.0 207.8,539.9 208.5,537.9 208.8,535.3 209.4,534.1 210.0,531.8 210.3,529.6 210.8,528.4 211.0,525.7 211.8,523.9 212.7,522.7 213.4,519.4 214.4,517.4 215.3,516.6 216.1,513.5 217.8,512.7 220.2,511.1 221.9,509.8 223.7,511.9 224.7,512.5 226.6,514.3 228.0,516.4 229.8,517.0 231.8,517.3 233.7,518.1 235.9,519.0 237.8,520.2 239.9,519.9 242.1,518.4 244.0,518.6 245.3,519.9 246.4,521.9 248.0,523.5 249.0,525.6 250.7,528.5 251.3,530.2 252.8,532.5 253.8,534.2 255.4,535.1 256.3,537.7 257.8,539.1 258.6,540.8 260.2,541.6 261.3,543.3 263.2,544.4 264.5,545.9 265.9,547.6 267.5,546.0 268.7,543.8 269.8,541.9 270.3,539.6 271.4,537.6 271.8,536.2 272.1,534.3 272.6,531.9 273.3,530.5 274.2,528.3 274.7,525.4 275.1,523.3 275.3,520.9 275.9,518.6 276.0,516.6 276.7,515.0 277.3,512.5 277.5,510.3 278.3,508.1 280.3,507.1 281.8,507.0 284.2,506.7 285.4,504.6 287.2,503.2 288.6,502.4 289.9,500.4 291.4,499.1 293.2,498.7 294.3,497.6 296.1,496.3 297.5,495.0 299.5,493.1 301.4,492.8 303.0,491.0 304.9,492.4 307.2,494.6 308.4,495.4 309.4,497.1 310.5,497.9 311.8,500.2 313.0,502.1 314.7,504.6 315.7,505.7 316.7,508.2 317.9,509.4 319.0,512.5 319.6,514.5 320.2,516.3 321.4,517.6 322.2,519.5 322.8,521.4 323.8,524.1 324.5,525.6 325.0,528.3 325.7,529.7 326.4,532.6 326.9,534.5 327.8,536.4 328.2,539.0 328.8,541.3 329.1,543.1 330.0,545.4 330.4,547.6 331.2,549.6 331.3,551.9 331.8,554.3 332.1,556.4 332.9,558.0 333.0,560.3 332.9,562.0 333.5,564.6 333.5,567.4 333.5,569.6 334.0,571.6 334.3,573.7 334.1,576.6 334.2,578.4 334.7,580.0 334.6,582.8 334.8,584.6 335.3,587.0 335.5,589.1 335.6,591.2 335.8,593.3 335.8,595.1 336.5,598.2 336.5,600.0 337.0,602.4 336.9,604.8 337.2,605.7 337.3,609.2 337.3,611.1 337.6,612.2 337.9,615.5 338.0,617.7 338.7,619.2 339.0,622.0 339.0,624.7 339.5,626.1 339.8,628.5 339.9,631.6 340.3,633.8 340.7,635.5 340.8,638.2 341.3,640.4 341.9,642.0 342.6,643.9 343.0,647.0 343.8,648.2 344.5,650.2 345.5,653.6 346.2,654.4 347.2,653.4 348.6,652.5 350.1,650.9 351.3,648.3 352.2,647.3 352.8,645.1 354.1,642.9 355.0,641.4 355.9,639.0 356.4,637.2 357.2,635.5 357.5,633.3 358.4,630.9 358.9,629.4 359.6,626.3 360.2,625.5 360.5,622.9 361.1,620.3 361.5,619.2 362.2,616.7 363.1,615.3 363.4,613.2 364.1,610.6 364.4,609.1 365.4,606.8 365.7,603.7 366.5,601.3 366.7,600.1 367.4,597.7 368.0,595.2 368.4,592.1 369.2,590.3 369.1,587.6 369.5,586.3 370.0,583.2 370.5,581.2 371.2,579.3 371.7,576.5 372.2,575.5 372.8,573.6 372.9,571.5 373.6,569.5 374.3,566.6 375.1,565.0 375.2,563.6 376.1,561.0 377.9,560.2 379.9,559.0 381.8,558.5 382.9,557.4 384.2,555.2 385.5,553.4 387.0,552.4 387.9,549.9 389.0,547.7 390.1,545.4 391.2,544.2 392.0,541.7 393.2,539.4 394.3,537.5 395.2,536.0 396.7,536.0 398.3,533.3 398.7,536.3 399.2,537.7 399.7,539.8 399.9,541.5 399.8,543.7 400.2,546.6 400.1,548.1 400.6,550.4 400.8,552.1 400.8,554.8 401.0,557.7 400.6,559.7 401.0,561.7 401.2,563.6 401.1,565.3 400.9,567.4 401.2,570.6 401.6,571.8 401.4,574.3 401.7,576.7 401.6,578.8 401.8,581.1 401.7,582.7 402.0,584.9 402.1,586.6 402.1,589.7 402.3,591.1 402.6,593.9 402.7,596.2 402.7,597.7 402.9,599.9 403.1,602.2 403.3,605.1 403.5,606.5 403.9,609.7 404.5,610.4 405.0,612.9 405.4,615.0 406.1,617.1 408.0,618.0 409.9,618.5 410.4,616.6 410.8,615.6 411.2,613.5 411.5,610.5 412.4,609.1 412.5,606.3 412.8,605.0 413.5,603.3 413.3,600.4 413.8,598.7 413.7,597.0 414.0,594.3 415.3,596.1 415.8,598.5 416.8,600.2 417.1,602.4 417.4,604.6 417.2,606.9 417.1,608.6 417.0,611.1 417.6,613.0 417.7,615.7 417.3,618.3 417.3,620.3 417.4,622.6 417.4,624.8 417.7,626.6 417.7,629.3 417.9,630.9 417.6,633.5 417.6,636.0 418.1,637.3 418.1,639.6 418.1,641.6 417.8,644.3 418.1,646.2 418.1,649.1 418.0,650.7 418.1,653.0 418.2,654.9 418.4,656.5 418.3,659.8 418.5,660.8 418.5,663.0 418.6,665.4 418.4,668.5 418.5,669.5 419.0,671.8 419.5,673.9 419.8,676.8 420.2,678.7 420.6,680.2 420.8,682.5 421.9,685.2 423.0,685.9 424.0,687.9 424.7,689.4 426.9,690.7 429.1,690.9 430.8,692.6 432.8,692.6 435.3,693.8 437.7,693.4 439.9,694.9 442.1,695.3 443.9,694.6 446.1,695.3 447.8,695.0 450.0,696.6 451.8,696.6 453.9,697.0 456.0,696.8 458.1,697.0 460.0,697.6 462.0,698.0 463.9,698.6 466.0,698.8 468.1,699.3 470.0,698.8 472.2,698.6 474.0,699.3 476.1,698.3 478.4,698.0 480.8,698.0 482.8,698.2 484.9,697.7 487.4,697.8 489.2,697.1 491.4,696.5 493.4,697.3 495.6,696.5 497.9,695.7 500.2,696.3 502.1,696.2 504.5,696.7 506.8,696.4 508.7,696.3 511.0,697.0 513.1,696.6 515.7,696.5 517.5,697.4 519.8,697.3 522.2,696.2 523.8,695.6 525.8,695.6 528.1,695.2 530.0,695.0 531.8,694.5 534.2,693.6 535.9,693.0 538.1,691.9 540.0,690.9 542.2,691.2 544.6,691.0 547.1,691.0 549.5,690.9 552.1,690.2 554.0,689.6 556.1,688.0 557.9,687.5 559.8,686.1 561.7,684.6 563.4,683.2 564.8,682.0 566.2,680.4 568.1,679.2 569.8,677.2 570.8,675.4 572.5,673.8 574.2,672.2 575.4,670.8 576.6,668.9 577.7,667.6 579.0,665.6 580.2,664.7 582.3,663.5 584.1,663.6 586.2,663.3 587.9,662.9 589.9,663.7 591.7,664.8 594.0,665.2 595.9,665.0 597.7,664.7 600.2,664.6 602.2,665.7 603.9,665.0 606.4,665.6 608.6,664.7 610.7,665.4 613.5,665.5 615.7,665.1 617.2,663.7 618.4,661.1 619.5,659.8 620.7,657.9 622.3,655.8 623.4,654.4 624.4,652.5 625.6,651.6 627.2,649.8 628.4,648.2 629.0,645.6 630.6,644.0 631.4,641.5 633.0,639.9 633.5,637.7 634.8,636.2 636.1,634.0 636.7,632.7 637.8,631.2 638.6,628.7 639.1,627.2 640.4,624.4 641.0,622.5 641.4,620.5 642.2,618.1 643.0,615.5 643.4,613.9 643.8,611.4 644.6,609.0 644.6,606.0 645.2,604.2 645.6,602.1 645.7,599.0 646.0,597.5 646.7,594.4 647.3,592.4 648.1,590.7 648.6,587.3 649.1,585.1 649.4,583.0 650.2,581.2 650.6,578.3 651.0,576.5 651.4,574.8 652.1,571.3 652.6,569.5 653.2,567.9 654.0,565.4 654.7,563.4 655.1,562.5 655.8,560.5 657.2,558.4 658.5,556.8 659.6,555.0 660.8,553.7 661.8,551.5 663.2,550.4 664.6,549.6 665.8,548.1 667.8,547.0 670.0,547.3 672.2,548.2 674.2,549.7 675.3,552.6 676.4,553.8 677.3,556.4 678.8,558.4 679.8,560.2 681.0,562.4 682.4,563.6 683.8,565.5 684.7,568.6 685.8,570.2 687.5,571.6 688.1,572.8 689.7,575.3 690.7,575.9 692.0,578.6 694.2,578.8 695.8,581.3 698.1,581.8 699.9,581.6 702.2,581.6 704.1,581.7 705.8,580.9 707.8,579.8 710.2,578.4 711.4,576.1 713.5,574.4 714.9,573.9 716.2,571.1 718.1,570.0 719.4,568.4 720.6,566.7 721.5,565.7 722.5,563.5 724.1,562.4 725.2,559.6 726.6,557.7 727.5,556.1 728.7,554.5 730.0,551.7 730.7,550.6 732.0,547.6 733.1,546.8 734.2,544.3 735.3,543.1 736.2,541.2 737.2,538.7 738.3,537.3 739.8,536.8 740.7,534.9 742.1,532.7 744.5,532.2 746.9,530.7 748.8,529.9 750.5,531.5 751.5,533.4 752.6,536.4 754.0,538.7 755.3,539.6 756.5,540.6 757.8,542.3 759.0,544.5 760.3,545.9 761.4,547.6 762.2,549.2 763.7,550.9 764.9,552.9 765.7,554.8 766.8,557.2 767.1,558.8 768.2,560.9 768.4,562.9 769.5,564.5 769.8,567.5 770.5,568.8 771.3,571.3 771.6,572.6 772.3,574.7 772.8,577.2 773.3,578.8 774.0,581.6 774.9,582.7 775.3,584.6 775.7,587.2 776.9,589.0 777.2,590.6 778.1,593.4 778.7,595.1 779.4,596.6 780.2,599.2 780.6,600.9 782.0,603.6 782.7,605.6 783.3,606.5 784.5,608.7 785.2,610.3 786.2,613.2 786.8,614.3 787.3,616.3 788.0,619.7 788.6,620.5 789.4,622.9 789.9,625.3 790.9,627.3 791.2,629.2 792.1,631.1 792.7,632.4 793.4,635.2 793.7,637.2 794.3,638.3 794.7,640.9 795.5,643.2 795.9,644.5 797.3,646.6 798.5,648.4 799.3,650.8 800.9,652.9 801.9,654.6 803.4,656.8 805.2,657.6 806.4,659.2 808.0,661.0 809.9,661.8 812.0,661.1 814.1,661.3 815.7,660.8 816.9,658.2 818.3,656.8 820.3,655.7 820.9,652.8 822.6,652.0 823.6,650.6 825.0,648.6 825.8,647.3 827.3,645.5 828.1,643.3 829.4,642.0 830.7,640.7 831.9,639.1 833.8,638.3 836.1,637.8 838.2,636.4 839.8,638.1 841.9,637.7 843.9,638.4 846.2,638.8 847.7,639.1 849.9,639.6 851.9,640.1 853.8,640.6 855.2,641.5 856.2,643.4 857.0,645.7 857.9,647.9 858.7,649.5 860.4,650.2 861.9,651.9 863.5,653.2 864.9,654.7 865.8,657.4 867.0,659.5 867.8,661.7 868.8,663.0 869.5,664.8 870.5,667.6 870.7,669.2 871.3,672.1 872.1,673.0 872.6,675.4 872.8,678.6 873.3,680.1 874.1,682.2 874.2,685.5 875.4,686.4 877.2,689.0 878.3,690.4 879.6,692.4 881.0,692.7 882.9,694.6 885.2,696.7 887.4,696.4 890.1,697.7 891.9,696.2 894.0,696.7 895.9,695.3 897.7,695.0 899.2,693.3"/></defs>
<g class="c" stroke="#00ffff" clip-path="url(#cp)"><use href="#p_cyan" x="-1.25" y="-2.7"/><use href="#p_cyan" x="-1.25" y="-1.35"/><use href="#p_cyan" x="-1.25" y="0"/><use href="#p_cyan" x="-1.25" y="1.35"/><use href="#p_cyan" x="-1.25" y="2.7"/><use href="#p_cyan" x="0" y="-2.7"/><use href="#p_cyan" x="0" y="-1.35"/><use href="#p_cyan" x="0" y="0"/><use href="#p_cyan" x="0" y="1.35"/><use href="#p_cyan" x="0" y="2.7"/><use href="#p_cyan" x="1.25" y="-2.7"/><use href="#p_cyan" x="1.25" y="-1.35"/><use href="#p_cyan" x="1.25" y="0"/><use href="#p_cyan" x="1.25" y="1.35"/><use href="#p_cyan" x="1.25" y="2.7"/></g>
<defs><polyline id="p_mag" points="95.0,691.0 97.6,691.2 99.8,689.6 101.7,689.4 104.0,688.7 106.2,688.5 107.8,687.5 109.9,686.5 112.2,685.7 114.0,687.0 116.1,689.5 118.3,690.2 120.2,690.5 121.9,691.7 124.0,691.7 126.0,691.6 127.9,692.2 130.2,693.2 132.3,692.8 134.2,693.0 136.1,694.3 137.8,693.8 140.1,694.2 141.9,694.6 144.0,695.2 146.0,695.8 148.1,697.4 149.5,695.6 150.9,693.8 152.1,692.1 154.0,690.6 156.2,690.4 157.8,689.2 160.1,688.4 161.3,686.9 162.8,684.4 164.7,683.3 165.8,682.4 167.6,680.0 168.9,678.9 170.4,677.4 171.8,675.6 172.5,673.3 173.1,672.2 174.2,669.6 174.4,668.5 175.4,665.4 176.2,664.6 176.8,661.7 177.2,660.2 177.6,657.7 178.4,656.2 178.6,654.2 179.4,651.4 180.1,650.1 180.7,648.0 181.3,645.5 181.5,644.1 182.4,642.6 182.8,640.3 183.5,637.3 183.8,636.1 184.8,633.1 184.9,630.9 185.5,629.1 186.0,627.5 186.7,624.8 187.5,622.8 187.9,619.8 188.5,617.2 188.9,615.4 189.4,612.7 189.9,610.5 190.4,608.4 190.7,607.1 190.9,604.8 191.8,601.8 191.8,600.6 192.6,597.4 192.5,595.4 193.1,592.6 193.4,591.6 193.7,588.6 193.9,587.2 194.5,584.0 194.8,582.3 195.1,579.5 195.1,577.8 195.8,575.1 195.8,573.3 196.5,571.7 196.9,568.7 197.2,567.2 197.6,564.0 197.8,562.2 198.0,560.5 198.2,557.5 198.1,556.0 198.6,552.7 198.3,551.1 198.5,548.9 198.6,546.6 198.8,545.0 198.9,542.1 198.7,540.3 199.2,537.9 199.2,535.1 199.3,532.9 199.4,531.6 199.4,529.1 199.8,526.8 200.2,525.0 200.2,522.6 200.4,520.5 200.4,519.0 200.7,516.9 200.5,514.7 200.7,512.3 200.8,510.5 201.2,507.2 201.4,506.2 201.5,503.2 202.0,501.3 202.3,499.5 202.2,497.2 202.3,494.3 202.7,492.1 203.2,490.6 203.6,488.0 204.5,486.3 205.0,484.3 206.4,483.5 208.2,481.3 209.9,481.4 211.8,479.2 214.0,478.7 216.3,476.8 218.0,476.3 219.7,474.5 222.0,474.5 223.3,474.8 225.1,477.0 226.2,477.6 228.0,478.6 229.0,480.8 230.0,482.2 231.0,484.4 231.9,486.5 233.4,487.0 234.7,488.5 236.2,489.3 238.1,490.0 240.2,490.1 242.3,490.8 242.9,492.9 244.0,494.8 245.2,496.8 246.2,498.2 246.8,500.6 248.1,501.9 248.8,504.3 250.2,506.2 251.1,507.9 252.1,509.6 253.1,511.9 253.7,514.2 254.8,515.7 256.1,518.7 257.1,520.3 258.0,521.7 258.9,523.4 259.8,525.4 261.2,528.0 262.9,530.1 264.7,530.7 265.8,533.1 266.9,530.6 268.2,529.9 269.5,528.0 270.7,525.7 272.1,524.6 273.0,522.5 274.3,520.6 275.3,518.9 276.8,517.0 277.8,514.6 279.9,514.0 281.7,514.6 282.4,516.1 283.1,518.1 283.9,520.0 284.3,522.6 285.0,523.8 285.5,526.0 286.2,527.4 286.8,530.6 287.4,531.6 287.8,534.2 288.9,536.1 289.1,537.3 289.8,540.3 290.5,542.6 291.0,544.2 291.4,546.4 291.8,548.7 292.4,551.1 293.1,553.3 293.6,554.3 293.8,557.1 296.0,556.6 298.0,557.1 299.9,556.8 302.1,555.7 304.0,556.7 306.1,558.0 307.9,558.6 310.1,559.4 311.7,561.8 313.1,563.2 314.8,563.9 316.9,565.6 318.3,567.6 319.8,569.6 322.0,570.5 323.9,571.0 326.1,572.9 326.0,575.0 326.5,577.6 326.6,579.2 327.2,582.3 327.5,583.9 327.8,585.6 327.9,588.0 328.3,591.1 328.7,592.4 329.0,594.6 329.0,596.9 329.4,598.7 329.3,601.5 329.3,603.9 329.5,605.8 329.9,608.0 330.2,610.0 329.9,611.7 330.2,614.9 330.2,615.9 330.7,618.9 330.5,620.3 331.1,622.8 331.2,624.9 331.2,627.3 331.7,629.8 331.5,631.8 332.1,633.7 331.9,635.7 332.3,638.7 332.4,641.1 332.8,642.4 333.2,644.6 333.6,646.3 334.4,648.8 335.2,651.1 336.2,652.7 336.8,654.6 337.2,653.2 338.0,650.6 338.2,649.5 338.6,646.8 338.9,645.6 339.3,642.4 339.4,640.5 340.3,638.2 340.3,636.1 340.9,633.6 340.9,631.5 341.1,629.5 341.7,626.9 342.2,625.5 342.8,622.7 343.2,620.6 343.6,618.3 344.1,616.7 344.9,614.9 345.7,613.1 345.9,610.4 346.4,609.1 347.6,607.6 347.9,604.7 348.6,602.3 349.3,600.4 349.8,598.4 350.6,596.7 351.4,594.7 351.9,592.4 352.5,590.4 352.7,588.9 353.3,586.7 353.7,584.8 354.7,583.3 355.0,580.4 355.9,579.5 356.3,576.3 356.9,574.7 357.7,572.7 358.0,571.3 358.4,569.1 359.6,566.7 359.9,565.1 360.7,562.5 361.5,560.5 362.1,559.3 363.6,557.0 364.7,556.0 366.2,554.8 366.5,552.8 366.8,550.7 367.5,548.5 367.8,547.2 368.4,544.0 368.8,542.5 369.3,540.6 369.9,538.0 371.1,536.3 372.1,533.8 373.2,532.3 374.1,530.3 375.8,530.3 377.9,530.3 379.2,531.5 380.5,532.8 382.0,534.7 383.8,532.4 385.6,531.7 387.2,530.7 387.6,528.2 388.2,526.4 388.9,524.6 389.7,521.7 389.9,520.4 391.3,519.4 393.2,518.4 393.7,519.8 394.8,521.6 396.0,524.0 397.2,526.2 397.8,527.9 398.7,529.4 399.0,531.6 399.5,534.6 399.9,535.9 400.4,537.9 400.9,539.5 401.1,541.9 401.2,545.0 401.8,546.0 401.7,549.4 402.0,550.4 402.4,553.5 402.5,555.8 402.7,558.4 402.7,559.7 403.2,562.7 403.7,564.2 403.5,566.3 403.7,569.4 404.0,571.2 404.4,573.7 404.5,576.0 404.6,577.2 405.1,580.3 405.6,582.0 405.9,584.2 406.5,586.6 407.2,587.5 407.7,589.6 407.8,591.8 408.5,589.9 409.7,587.5 410.5,585.7 410.8,584.5 411.8,582.0 413.0,578.7 414.1,577.6 415.6,578.2 417.3,579.3 416.9,581.8 417.1,584.3 417.5,586.7 417.2,588.5 417.3,591.1 417.6,592.9 417.4,594.6 417.5,596.9 417.7,599.7 417.6,601.6 417.7,604.2 417.8,605.8 417.9,607.8 417.9,609.5 418.1,612.7 418.4,614.3 418.0,617.3 418.0,618.8 418.5,620.7 418.4,624.0 418.5,625.1 418.3,627.2 418.4,630.3 418.3,632.7 418.3,633.9 418.8,636.4 419.0,639.2 418.9,640.9 419.1,642.8 419.1,644.9 418.9,648.2 418.9,649.9 419.4,651.8 419.3,654.9 419.8,656.7 420.1,658.8 420.5,661.1 420.8,664.2 420.8,665.1 421.2,668.1 422.6,670.5 423.9,672.7 425.2,674.3 426.6,676.2 428.1,678.0 429.9,679.0 431.7,680.1 434.2,682.0 436.0,682.1 438.2,684.3 439.9,685.1 442.2,685.6 444.6,686.1 446.9,685.6 448.8,684.6 451.2,683.9 452.8,682.7 455.2,681.4 457.4,681.7 459.7,681.5 461.9,681.8 464.2,682.1 466.0,683.8 468.0,683.7 470.0,685.7 471.7,687.3 473.8,688.2 476.2,689.5 478.0,691.0 480.1,692.0 481.8,693.4 484.0,695.2 485.2,693.1 486.8,691.2 487.9,688.6 489.7,689.3 492.0,687.7 493.9,688.6 495.7,688.8 498.2,688.4 500.2,689.2 502.0,689.7 504.0,691.1 505.9,692.1 508.2,694.1 509.8,694.9 512.0,694.9 513.7,694.9 516.2,696.0 518.0,695.8 519.7,695.4 522.0,694.7 524.3,694.1 526.3,693.4 528.0,692.6 529.8,690.9 531.9,689.4 533.8,688.8 535.9,686.5 537.8,687.0 540.2,686.6 542.2,685.1 544.2,684.3 545.9,685.1 547.7,685.0 549.7,684.9 552.0,684.4 553.8,683.2 555.8,681.6 557.7,680.1 560.0,679.4 561.4,677.4 563.1,676.5 564.7,674.4 566.7,673.2 568.1,671.5 570.0,670.8 571.7,669.9 574.0,667.6 576.1,666.4 578.2,667.7 580.1,667.6 581.8,667.9 583.8,668.4 585.8,669.7 588.0,671.1 589.0,673.5 589.5,674.1 590.6,676.9 591.6,678.4 592.4,679.7 593.0,681.9 594.1,683.8 596.3,682.6 598.7,680.4 599.8,682.6 600.9,684.8 601.9,686.7 602.7,688.2 604.0,690.3 604.2,687.4 604.4,685.5 604.7,683.3 604.5,681.3 604.6,679.2 605.1,677.2 605.1,674.0 605.5,672.8 605.5,670.7 605.7,667.9 605.8,665.8 606.3,663.6 606.2,661.7 606.3,659.6 606.3,660.6 606.5,664.1 606.8,665.0 606.8,667.5 607.1,670.8 606.8,672.8 606.9,674.2 607.1,676.6 607.1,679.4 607.5,680.7 607.6,683.6 607.7,685.1 608.1,687.8 609.3,685.8 610.3,684.0 611.7,682.4 613.0,680.7 615.0,680.7 616.9,680.3 618.5,678.4 619.8,677.3 621.4,675.6 622.5,673.7 624.6,672.7 626.4,671.3 627.9,669.2 629.8,667.4 631.0,665.9 632.9,664.6 634.2,663.9 635.6,663.0 637.2,661.6 637.8,658.4 638.2,656.4 639.1,654.7 640.1,652.4 640.3,649.9 640.5,648.9 641.1,646.9 641.1,644.6 641.4,642.4 641.9,640.6 642.4,637.2 642.6,635.5 642.7,632.8 642.9,631.4 643.0,629.5 643.6,626.6 643.4,624.7 643.9,621.7 644.2,619.6 644.6,617.2 644.6,615.8 645.0,613.3 645.6,611.4 645.8,608.8 645.8,607.3 646.6,604.6 646.6,602.1 647.2,600.6 647.5,598.4 647.6,595.4 648.2,593.5 648.1,591.0 648.4,588.4 648.8,586.4 649.1,584.6 649.8,581.8 649.9,579.8 650.7,577.4 650.9,575.9 651.1,572.8 651.6,570.6 652.1,569.2 652.8,565.7 652.7,564.6 653.8,561.9 654.8,559.9 656.1,559.2 657.1,556.7 657.9,554.8 659.8,554.8 661.9,556.0 664.0,556.5 665.3,556.9 666.7,559.4 668.5,560.7 669.8,561.4 671.1,564.5 671.8,565.6 672.8,568.1 674.0,570.1 675.0,571.4 675.8,574.2 676.3,575.4 677.1,578.0 678.1,579.9 679.2,581.8 680.0,584.4 681.0,586.3 682.0,588.5 683.3,590.4 683.9,592.7 685.2,594.5 686.2,596.7 687.1,597.4 688.3,600.0 688.8,602.0 689.8,604.4 691.2,606.1 692.2,608.5 692.9,609.7 693.8,612.0 694.8,614.7 696.1,615.6 697.9,617.3 699.1,618.8 700.9,620.9 703.4,620.5 705.6,619.7 708.2,619.2 709.3,617.7 710.8,616.2 712.7,614.2 713.8,612.4 716.1,611.0 717.9,609.4 719.8,608.9 721.8,607.9 724.1,607.8 725.8,606.8 728.2,606.7 730.2,606.1 732.1,606.0 734.3,604.1 735.9,604.4 738.1,605.0 740.1,604.7 742.1,605.7 742.7,608.0 743.9,610.4 744.5,612.7 745.1,615.1 746.0,616.6 747.3,618.9 748.7,620.8 749.6,621.7 750.6,623.1 751.9,624.8 753.2,626.7 754.1,629.6 754.9,630.4 756.0,632.4 757.1,635.1 757.9,637.5 759.5,638.7 760.2,641.3 761.5,643.3 763.0,645.6 763.8,647.2 765.4,648.4 766.8,651.2 767.5,652.8 768.8,655.2 770.9,656.5 772.8,658.1 775.0,656.9 777.0,654.5 777.6,652.4 777.8,651.2 778.2,649.4 778.9,647.3 779.3,645.2 779.8,643.7 779.9,640.8 781.4,638.6 782.7,637.4 783.7,634.9 785.1,633.0 785.7,630.6 786.4,629.0 787.1,626.5 787.2,625.4 787.9,623.6 788.5,621.0 789.4,619.1 790.0,617.3 791.0,618.6 792.4,620.2 793.3,622.2 794.6,624.2 795.9,626.6 797.9,626.2 800.3,625.2 802.0,624.8 804.0,625.0 806.1,626.0 808.2,627.7 810.0,629.0 812.0,630.1 813.9,631.1 816.2,632.4 817.9,631.2 820.0,630.0 822.0,629.6 823.6,628.2 825.0,625.8 826.5,624.8 827.8,623.3 829.2,621.4 830.8,620.4 831.8,618.5 834.0,618.1 836.0,617.4 837.7,617.8 840.2,617.2 841.7,615.2 842.8,614.7 844.3,612.7 845.9,611.7 847.8,610.3 849.9,609.9 852.0,608.3 853.3,609.9 854.0,612.1 854.9,613.4 855.8,615.3 856.5,616.6 857.6,618.4 858.1,620.6 858.5,623.2 859.6,624.5 860.0,626.3 861.6,629.5 862.5,631.2 864.2,633.5 865.8,633.9 867.8,634.4 869.1,636.8 869.9,639.2 870.9,640.7 872.3,642.5 872.7,645.4 873.4,647.5 874.1,649.6 874.6,651.6 874.5,652.6 874.7,655.2 875.2,657.1 875.4,659.7 875.6,661.1 876.3,663.8 876.4,665.7 877.0,667.6 877.4,669.4 877.9,671.2 878.5,674.1 879.9,675.9 881.0,677.2 882.6,678.8 883.8,681.5 886.0,682.7 888.7,682.7 891.1,681.4 893.5,680.8 895.3,680.3 897.2,679.8 898.9,681.0 900.4,682.6"/></defs>
<g class="c" stroke="#ff00ff" clip-path="url(#cp)"><use href="#p_mag" x="-1.25" y="-2.7"/><use href="#p_mag" x="-1.25" y="-1.35"/><use href="#p_mag" x="-1.25" y="0"/><use href="#p_mag" x="-1.25" y="1.35"/><use href="#p_mag" x="-1.25" y="2.7"/><use href="#p_mag" x="0" y="-2.7"/><use href="#p_mag" x="0" y="-1.35"/><use href="#p_mag" x="0" y="0"/><use href="#p_mag" x="0" y="1.35"/><use href="#p_mag" x="0" y="2.7"/><use href="#p_mag" x="1.25" y="-2.7"/><use href="#p_mag" x="1.25" y="-1.35"/><use href="#p_mag" x="1.25" y="0"/><use href="#p_mag" x="1.25" y="1.35"/><use href="#p_mag" x="1.25" y="2.7"/></g>
<defs><polyline id="p_black" points="95.0,692.0 97.4,691.5 99.7,691.5 101.9,690.3 103.9,690.5 105.9,690.3 107.8,689.5 110.2,689.8 112.0,689.3 114.0,689.9 115.8,689.7 118.1,689.0 119.9,688.3 122.1,688.3 124.1,687.9 126.3,688.1 128.0,687.5 130.1,686.7 132.0,687.4 133.9,687.8 136.2,687.6 138.0,689.9 140.1,691.2 141.9,690.3 144.0,688.9 145.9,687.8 148.1,687.3 150.2,685.8 152.2,684.0 154.0,683.0 155.9,682.2 157.7,680.8 159.9,678.7 161.6,678.0 163.2,676.2 165.1,674.6 166.7,676.2 168.5,676.9 170.2,678.0 172.1,678.9 173.8,678.6 175.8,678.5 178.0,678.1 180.0,678.1 182.1,677.4 183.3,674.8 185.0,673.7 186.2,672.2 187.9,669.4 189.0,667.7 189.6,666.1 190.2,664.4 191.2,661.5 192.2,660.2 192.6,658.5 193.2,656.4 193.6,654.5 193.9,651.8 194.2,649.7 194.8,647.5 195.5,645.8 195.6,644.3 195.9,642.1 196.3,640.1 196.7,637.7 197.1,636.3 197.2,634.3 197.3,631.3 198.0,629.7 198.3,626.9 198.3,624.5 198.8,622.3 198.7,620.2 199.2,618.2 199.4,614.9 199.6,613.4 199.5,611.3 199.7,609.3 199.8,607.3 199.5,604.6 200.0,601.9 199.9,599.7 199.9,598.5 200.0,595.6 200.1,593.9 200.4,590.5 200.3,589.5 200.9,586.2 200.9,584.6 201.1,582.2 200.9,579.9 201.1,577.4 201.2,575.1 201.2,572.7 201.4,571.0 201.6,568.3 201.8,566.6 201.6,564.8 201.7,562.7 202.0,560.1 202.1,558.3 202.4,555.6 202.9,553.0 203.0,550.5 203.3,549.1 203.3,546.2 203.3,545.1 204.0,542.1 203.9,540.3 204.6,537.0 204.5,535.1 204.9,533.1 205.2,531.1 205.4,529.1 206.0,526.4 206.2,523.4 206.8,521.4 207.1,520.3 208.1,517.5 208.8,515.4 209.3,514.6 209.8,511.5 211.4,511.0 213.2,509.4 214.3,508.1 216.1,505.6 217.8,505.2 220.1,504.3 222.0,503.5 224.2,504.0 225.8,505.0 228.1,505.7 229.1,508.2 230.2,510.1 230.8,511.6 231.8,512.8 234.0,513.0 236.2,513.7 238.1,514.9 239.1,513.2 240.9,512.1 241.9,510.6 243.0,513.5 243.9,515.0 244.7,517.8 246.3,519.4 246.9,521.6 247.7,523.9 248.7,526.6 249.4,527.4 250.1,530.5 251.3,531.5 252.4,533.5 253.4,536.0 254.6,538.2 255.8,539.9 257.3,541.5 258.7,542.7 260.3,545.6 261.8,546.9 263.4,547.3 265.1,549.6 266.9,547.0 268.3,546.1 270.0,544.4 270.9,541.7 271.4,540.4 272.3,537.5 273.0,536.6 273.7,533.5 275.2,531.6 275.8,530.3 277.2,528.6 278.2,526.3 278.9,525.6 280.1,527.0 280.9,529.5 282.0,531.7 282.8,533.7 283.4,536.6 283.8,537.9 284.5,540.4 284.8,542.0 286.3,544.1 287.7,545.8 288.8,548.2 290.3,550.0 290.7,548.0 291.0,545.8 292.1,544.6 292.3,542.3 293.0,540.2 293.2,537.6 294.0,536.0 294.5,533.3 294.6,531.7 294.9,530.5 296.8,529.3 298.7,528.1 300.3,525.9 301.9,524.6 303.9,525.5 306.2,526.9 307.8,528.0 310.1,529.4 311.7,530.8 314.0,532.2 315.4,533.0 316.4,535.8 317.7,537.1 319.0,537.7 320.2,540.0 321.1,542.6 322.6,544.5 323.8,545.3 324.9,547.7 325.6,550.4 326.5,552.8 327.1,554.5 327.8,556.7 328.3,559.8 328.6,561.3 328.9,563.5 328.8,566.2 329.4,568.2 329.3,570.8 329.9,572.7 330.1,575.6 329.9,576.5 330.3,579.5 330.6,581.4 330.7,583.0 331.0,586.4 330.6,587.7 331.3,590.5 331.2,591.7 331.3,593.9 331.5,595.8 331.5,598.1 331.6,601.1 332.1,603.0 332.1,605.0 332.3,607.4 332.5,608.8 332.2,611.5 332.7,614.2 332.8,615.2 332.7,618.1 333.1,620.6 333.1,621.6 333.2,624.2 333.5,625.8 333.5,628.0 333.9,630.3 333.9,632.8 334.2,635.2 334.6,636.7 335.0,639.3 335.2,641.7 335.7,643.7 336.3,646.0 336.4,648.2 336.8,650.9 338.2,652.7 339.6,654.7 341.1,656.3 342.2,655.0 343.4,653.4 344.8,650.7 345.8,648.8 346.5,646.9 346.6,645.6 347.3,643.2 347.9,640.7 349.0,638.3 349.5,637.4 349.9,634.4 350.7,632.9 351.2,629.9 352.3,629.0 352.7,626.2 353.1,623.2 354.1,622.1 354.9,620.1 355.3,616.6 356.2,614.8 356.7,612.8 357.0,611.0 357.9,608.7 358.3,605.6 359.0,603.8 359.5,601.8 359.8,600.1 360.4,597.9 360.8,595.6 361.3,593.0 361.7,591.1 362.7,588.6 363.3,586.5 363.8,584.5 364.5,582.5 364.9,579.4 365.5,577.0 366.1,575.2 366.3,573.6 366.9,570.4 367.2,568.1 368.2,566.9 368.5,565.1 368.9,561.6 369.6,559.9 370.2,558.4 370.2,556.3 370.5,554.7 370.8,552.4 371.2,550.2 371.5,548.4 371.9,546.4 372.8,544.1 373.3,542.6 374.1,540.5 375.5,540.7 377.1,542.5 379.1,543.3 381.7,543.1 383.7,541.7 385.4,539.4 386.8,538.1 387.8,536.0 388.5,533.6 389.1,531.5 389.9,529.3 390.5,527.3 390.7,525.9 392.2,524.2 393.5,522.8 394.8,520.9 396.2,521.7 397.9,524.0 399.1,525.1 399.7,527.8 400.7,529.1 401.5,531.2 402.3,534.0 402.5,536.0 402.7,537.9 402.7,540.2 403.0,543.1 403.1,545.4 403.6,548.0 403.9,549.1 404.0,552.2 403.9,554.9 403.8,556.7 403.8,558.6 403.8,561.9 404.2,563.2 404.1,565.6 403.8,568.4 404.0,570.5 404.1,572.6 403.8,575.1 404.0,577.7 404.3,580.0 404.9,582.6 405.2,584.0 405.2,586.0 405.9,588.8 405.8,590.6 406.8,592.6 408.1,595.5 409.2,597.4 409.4,595.3 409.8,592.4 410.4,591.1 410.5,589.1 411.0,586.8 412.0,584.6 413.2,581.6 414.2,580.1 416.0,580.0 417.9,581.6 418.2,583.3 417.8,585.8 418.2,587.8 418.4,589.6 418.4,591.8 418.0,594.1 418.5,595.9 418.3,598.8 418.2,600.6 418.5,602.9 418.3,604.9 418.7,607.1 418.5,610.0 418.6,612.1 418.4,614.0 418.7,616.0 418.4,618.4 418.2,620.8 418.7,621.9 418.8,625.2 418.3,627.3 418.6,629.2 418.8,631.2 418.8,632.8 418.5,635.0 418.7,637.3 418.5,640.5 418.6,642.2 419.3,644.7 419.0,646.9 419.5,648.7 419.6,650.5 419.7,652.5 420.0,654.9 420.4,656.8 420.7,659.0 421.5,662.0 421.5,662.9 422.3,665.0 422.3,668.4 423.1,669.4 423.8,671.9 424.5,673.9 425.2,676.6 426.1,679.4 427.2,680.5 428.9,682.1 431.0,683.6 432.9,684.6 434.6,684.7 436.6,685.8 438.4,687.5 439.9,687.7 442.2,687.9 443.9,689.3 446.0,689.2 447.8,689.5 450.4,689.2 452.5,688.8 455.2,688.8 457.1,689.0 459.8,689.3 462.1,689.6 463.7,689.6 465.9,690.6 467.7,691.7 470.2,691.4 472.2,692.9 474.3,693.7 476.0,695.0 477.7,696.2 479.6,696.3 480.8,697.7 483.2,696.9 484.7,695.9 485.9,694.4 487.0,693.0 488.2,691.5 489.9,690.5 492.1,690.8 493.9,689.9 495.8,689.7 498.1,691.1 499.7,690.8 502.1,691.6 504.1,693.3 506.0,695.2 508.1,695.7 509.8,696.8 512.0,696.9 513.9,696.5 516.2,696.5 518.0,696.1 520.0,696.9 522.2,696.5 524.0,696.0 525.8,695.6 528.1,694.6 530.2,693.7 531.8,691.7 534.1,690.4 536.2,689.5 538.2,689.2 539.7,688.7 542.2,687.8 544.1,687.7 546.0,687.6 547.8,687.7 550.0,687.5 552.1,686.4 554.1,685.7 556.2,685.3 558.1,683.8 560.2,682.6 561.4,682.4 563.0,680.0 565.1,679.6 566.6,678.1 568.3,677.3 569.2,676.4 571.0,674.8 572.3,672.8 574.1,672.3 576.1,671.6 578.2,670.9 580.2,670.5 582.2,670.4 584.0,670.7 586.0,670.8 588.0,671.6 590.2,671.4 591.9,671.2 594.2,671.8 596.3,672.2 598.7,672.4 600.7,673.8 603.2,674.4 605.6,674.8 607.8,675.0 609.9,674.9 612.7,674.6 614.6,674.8 617.2,675.7 619.0,673.2 620.7,671.4 622.0,669.5 623.9,667.7 625.9,666.5 627.2,664.6 629.0,663.3 631.2,661.9 633.0,661.0 633.9,659.6 634.9,656.6 636.3,655.7 637.5,653.2 638.5,651.3 639.5,649.2 640.4,647.2 641.3,645.2 641.8,642.1 642.3,640.6 643.3,638.3 643.6,636.7 644.3,634.6 644.7,633.2 644.8,630.0 645.3,628.0 645.2,627.0 645.6,623.8 645.7,622.4 645.8,620.9 646.5,618.8 646.5,616.2 646.6,614.0 646.7,611.5 646.9,610.5 647.3,608.8 647.5,605.6 647.6,604.2 647.7,601.0 648.6,598.9 648.6,597.1 649.0,594.0 649.3,592.6 650.1,589.7 650.5,588.2 650.6,585.7 651.0,583.2 651.5,580.4 651.7,578.5 652.5,576.3 652.6,574.3 652.9,571.6 653.7,569.9 654.1,568.1 654.7,565.5 655.4,563.6 656.1,561.7 657.6,561.0 659.1,558.9 660.9,557.0 663.2,556.0 665.9,555.8 667.8,555.4 669.1,556.9 670.7,559.1 672.0,560.2 672.8,562.1 673.7,564.5 675.2,565.4 675.8,568.6 677.1,570.4 678.2,571.5 678.8,574.7 680.1,576.1 681.2,578.4 682.2,580.3 683.2,581.3 684.2,584.5 685.6,586.6 686.9,587.3 687.9,589.9 689.2,591.7 690.6,592.9 691.8,594.3 692.9,596.4 693.9,598.1 695.9,599.9 697.9,600.2 700.0,601.4 701.9,601.6 704.2,601.2 706.0,600.9 707.8,599.9 710.1,599.1 712.1,598.0 714.2,597.9 716.1,596.2 717.8,595.9 720.1,596.0 721.9,595.8 724.0,595.2 725.8,594.6 728.2,594.3 729.8,595.1 732.1,594.5 733.9,593.6 736.2,592.7 736.3,590.4 736.6,589.2 736.9,586.8 737.3,584.3 739.3,585.9 741.6,586.6 744.2,587.1 746.3,587.3 748.6,586.7 751.2,586.4 752.9,588.1 754.2,589.6 755.8,590.8 757.5,592.5 758.4,595.5 759.7,596.7 761.2,599.3 762.1,601.5 762.7,602.6 763.9,604.4 765.2,607.5 765.9,608.9 767.0,611.1 767.6,613.1 768.8,614.8 769.2,617.7 770.1,619.0 770.9,621.5 771.8,623.4 773.6,624.0 775.2,625.9 776.5,626.6 778.2,627.4 779.8,627.4 782.2,626.8 783.8,625.9 785.7,624.3 787.0,621.4 788.6,623.2 789.9,625.8 790.9,627.4 792.0,629.0 792.3,631.6 793.1,632.6 794.5,634.8 794.9,637.3 796.5,639.0 797.5,640.4 799.0,642.3 800.2,644.1 801.9,644.9 804.1,646.2 805.9,647.4 808.2,648.3 810.2,648.4 812.1,647.4 813.9,648.0 815.8,646.2 817.2,645.1 818.7,644.5 820.1,642.6 821.7,640.9 823.0,639.3 824.6,638.9 826.1,636.9 827.4,636.4 828.8,633.9 830.3,633.8 831.9,632.0 834.0,630.5 835.8,629.9 838.0,628.7 839.8,629.4 841.9,631.2 844.0,631.5 845.8,631.3 847.8,630.2 850.0,630.6 851.8,630.5 854.0,631.7 856.2,632.8 857.3,635.1 858.5,635.7 859.8,637.2 860.8,638.8 861.9,640.8 863.5,642.3 864.5,644.4 865.6,646.6 867.2,647.7 867.9,650.7 868.5,652.0 869.2,654.8 870.2,657.2 870.9,658.2 872.2,661.1 872.4,663.8 872.8,666.0 873.7,666.9 874.2,669.5 874.6,671.9 874.9,674.1 875.8,676.1 876.7,677.6 877.9,679.9 878.6,681.8 879.6,684.2 880.9,685.6 882.6,687.6 884.3,689.0 886.1,689.9 886.8,691.7 887.8,694.2 889.4,692.4 890.4,691.2 892.2,690.5 893.6,689.0 895.4,686.5 898.2,688.3 900.7,688.5"/></defs>
<g class="c" stroke="#000000" clip-path="url(#cp)"><use href="#p_black" x="-1.25" y="-2.7"/><use href="#p_black" x="-1.25" y="-1.35"/><use href="#p_black" x="-1.25" y="0"/><use href="#p_black" x="-1.25" y="1.35"/><use href="#p_black" x="-1.25" y="2.7"/><use href="#p_black" x="0" y="-2.7"/><use href="#p_black" x="0" y="-1.35"/><use href="#p_black" x="0" y="0"/><use href="#p_black" x="0" y="1.35"/><use href="#p_black" x="0" y="2.7"/><use href="#p_black" x="1.25" y="-2.7"/><use href="#p_black" x="1.25" y="-1.35"/><use href="#p_black" x="1.25" y="0"/><use href="#p_black" x="1.25" y="1.35"/><use href="#p_black" x="1.25" y="2.7"/></g>
<rect x="98" y="16" width="410.2" height="184.5" fill="#fff" stroke="#000" stroke-width="2"/>
<line x1="112.4" y1="37.8" x2="193.4" y2="37.8" stroke="#ff0000" stroke-width="5.2"/><text class="t" transform="translate(202.8,47) scale(0.897,1)">GPS Only - RMS:33.6 m</text>
<line x1="112.4" y1="73.3" x2="193.4" y2="73.3" stroke="#0000ff" stroke-width="5.2"/><text class="t" transform="translate(202.8,82.3) scale(0.897,1)">Single IMU - RMS:25.0 m</text>
<line x1="112.4" y1="108.5" x2="193.4" y2="108.5" stroke="#00ffff" stroke-width="5.2"/><text class="t" transform="translate(202.8,118.6) scale(0.9025,1)">VIMU Avg - RMS:21.0 m</text>
<line x1="112.4" y1="142" x2="193.4" y2="142" stroke="#ff00ff" stroke-width="5.2"/><text class="t" transform="translate(202.8,153.8) scale(0.901,1)">VIMU LSQ - RMS:20.2 m</text>
<line x1="112.4" y1="177.3" x2="193.4" y2="177.3" stroke="#000000" stroke-width="5.2"/><text class="t" transform="translate(202.8,190) scale(0.91,1)">VIMU AKF - RMS:19.5 m</text>
<text class="t" text-anchor="end" transform="translate(86,20.5) scale(0.93,1)">140</text><text class="t" text-anchor="end" transform="translate(86,117.8) scale(0.93,1)">120</text><text class="t" text-anchor="end" transform="translate(86,216.7) scale(0.93,1)">100</text><text class="t" text-anchor="end" transform="translate(86,316.1) scale(0.93,1)">80</text><text class="t" text-anchor="end" transform="translate(86,413.5) scale(0.93,1)">60</text><text class="t" text-anchor="end" transform="translate(86,512.5) scale(0.93,1)">40</text><text class="t" text-anchor="end" transform="translate(86,611.9) scale(0.93,1)">20</text><text class="t" text-anchor="end" transform="translate(86,710.4) scale(0.93,1)">0</text>
<text class="t" text-anchor="middle" transform="translate(94.7,732.9) scale(0.93,1)">0</text><text class="t" text-anchor="middle" transform="translate(219,732.9) scale(0.93,1)">200</text><text class="t" text-anchor="middle" transform="translate(343.3,732.9) scale(0.93,1)">400</text><text class="t" text-anchor="middle" transform="translate(469.5,732.9) scale(0.93,1)">600</text><text class="t" text-anchor="middle" transform="translate(593.7,732.9) scale(0.93,1)">800</text><text class="t" text-anchor="middle" transform="translate(719.9,732.9) scale(0.93,1)">1000</text><text class="t" text-anchor="middle" transform="translate(844.2,732.9) scale(0.93,1)">1200</text><text class="t" text-anchor="middle" transform="translate(969.9,732.9) scale(0.93,1)">1400</text>
<text class="t" text-anchor="middle" transform="translate(527.8,767) scale(0.912,1)">Test Duration (s)</text>
<text class="t" text-anchor="middle" transform="translate(22,353.4) rotate(-90) scale(0.928,1)">Horizontal Error (m)</text>
</svg>
</body></html>
